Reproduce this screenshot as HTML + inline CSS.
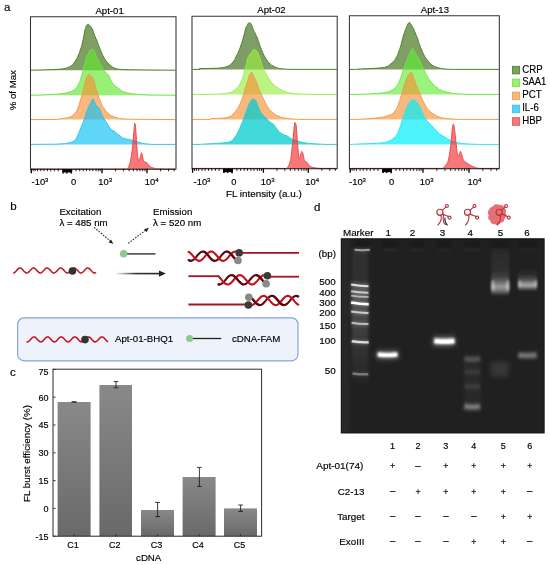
<!DOCTYPE html>
<html lang="en">
<head>
<meta charset="utf-8">
<title>Figure</title>
<style>
html,body{margin:0;padding:0;background:#fff;}
body{width:550px;height:565px;overflow:hidden;}
svg{display:block;font-family:"Liberation Sans",sans-serif;}
text{fill:#000;stroke:#000;stroke-width:0.16px;}
</style>
</head>
<body>
<svg width="550" height="565" viewBox="0 0 550 565">
<rect width="550" height="565" fill="#fff"/>
<!-- panel a -->
<text x="4" y="11.2" font-size="11.5">a</text>
<text transform="translate(15.6 110.2) rotate(-90)" font-size="9.6">% of Max</text>
<g>
<path d="M31 70.2 L40 70 L42.3 69.92 L45.63 69.81 L49.41 69.68 L53.06 69.54 L56 69.4 L58.14 69.27 L59.87 69.15 L61.33 69.02 L62.66 68.84 L64 68.6 L65.36 68.3 L66.64 67.96 L67.84 67.57 L68.96 67.17 L70 66.55 L70.94 66.06 L71.79 65.14 L72.57 64.84 L73.3 64.06 L74 63.11 L74.66 61.88 L75.27 61.21 L75.85 60.09 L76.42 58.98 L77 58.32 L77.61 57.09 L78.23 55.07 L78.84 54.22 L79.44 52.57 L80 50.92 L80.52 49.34 L81.02 48.09 L81.5 46.36 L81.96 44.87 L82.4 43.11 L82.83 40.81 L83.25 39.16 L83.65 37.17 L84.03 35.13 L84.4 33.08 L84.74 31.1 L85.05 29.63 L85.35 28.43 L85.66 27.86 L86 26.46 L86.37 25.74 L86.77 25.51 L87.18 24.67 L87.59 24.56 L88 24.36 L88.39 24.15 L88.78 24.76 L89.17 25.32 L89.57 25.29 L90 25.81 L90.47 26.42 L90.97 26.68 L91.48 27.59 L91.96 28.47 L92.4 29.11 L92.75 29.86 L93.03 31.01 L93.3 31.51 L93.6 32.89 L94 33.91 L94.51 35.33 L95.1 36.34 L95.73 38.22 L96.38 39.22 L97 40.77 L97.6 42.77 L98.2 44.49 L98.8 45.78 L99.4 47.39 L100 48.82 L100.58 50.32 L101.15 52 L101.73 53.09 L102.34 54.41 L103 55.97 L103.74 57.06 L104.53 58.67 L105.35 60.02 L106.18 61.14 L107 61.99 L107.78 62.84 L108.55 63.77 L109.33 64.25 L110.14 65.47 L111 65.88 L111.89 66.51 L112.78 67.22 L113.74 67.74 L114.79 68.2 L116 68.6 L117.12 68.91 L118.12 69.14 L119.36 69.32 L121.2 69.46 L124 69.6 L128.46 69.72 L134.35 69.82 L140.61 69.9 L146.18 69.96 L150 70 L175.5 70.2Z" fill="rgb(60,110,20)" fill-opacity="0.66" stroke="none"/>
<path d="M31 70.2 L40 70 L42.3 69.92 L45.63 69.81 L49.41 69.68 L53.06 69.54 L56 69.4 L58.14 69.27 L59.87 69.15 L61.33 69.02 L62.66 68.84 L64 68.6 L65.36 68.3 L66.64 67.96 L67.84 67.57 L68.96 67.17 L70 66.55 L70.94 66.06 L71.79 65.14 L72.57 64.84 L73.3 64.06 L74 63.11 L74.66 61.88 L75.27 61.21 L75.85 60.09 L76.42 58.98 L77 58.32 L77.61 57.09 L78.23 55.07 L78.84 54.22 L79.44 52.57 L80 50.92 L80.52 49.34 L81.02 48.09 L81.5 46.36 L81.96 44.87 L82.4 43.11 L82.83 40.81 L83.25 39.16 L83.65 37.17 L84.03 35.13 L84.4 33.08 L84.74 31.1 L85.05 29.63 L85.35 28.43 L85.66 27.86 L86 26.46 L86.37 25.74 L86.77 25.51 L87.18 24.67 L87.59 24.56 L88 24.36 L88.39 24.15 L88.78 24.76 L89.17 25.32 L89.57 25.29 L90 25.81 L90.47 26.42 L90.97 26.68 L91.48 27.59 L91.96 28.47 L92.4 29.11 L92.75 29.86 L93.03 31.01 L93.3 31.51 L93.6 32.89 L94 33.91 L94.51 35.33 L95.1 36.34 L95.73 38.22 L96.38 39.22 L97 40.77 L97.6 42.77 L98.2 44.49 L98.8 45.78 L99.4 47.39 L100 48.82 L100.58 50.32 L101.15 52 L101.73 53.09 L102.34 54.41 L103 55.97 L103.74 57.06 L104.53 58.67 L105.35 60.02 L106.18 61.14 L107 61.99 L107.78 62.84 L108.55 63.77 L109.33 64.25 L110.14 65.47 L111 65.88 L111.89 66.51 L112.78 67.22 L113.74 67.74 L114.79 68.2 L116 68.6 L117.12 68.91 L118.12 69.14 L119.36 69.32 L121.2 69.46 L124 69.6 L128.46 69.72 L134.35 69.82 L140.61 69.9 L146.18 69.96 L150 70 L175.5 70.2" fill="none" stroke="#4e7f2a" stroke-width="1.0" stroke-linejoin="round"/>
<path d="M31 95.2 L40 95 L42.27 94.9 L45.54 94.76 L49.26 94.59 L52.93 94.4 L56 94.2 L58.43 94 L60.58 93.81 L62.5 93.59 L64.29 93.32 L66 93 L67.64 92.62 L69.16 92.15 L70.56 91.75 L71.84 91.47 L73 90.58 L74.01 90 L74.86 89.42 L75.62 88.45 L76.31 87.9 L77 87.09 L77.66 86.22 L78.27 84.68 L78.85 83.67 L79.42 82.21 L80 81.22 L80.61 79.39 L81.22 76.97 L81.83 75.53 L82.43 73.39 L83 71.11 L83.55 69.03 L84.08 66.62 L84.59 64.44 L85.1 62.83 L85.6 60.69 L86.1 59.13 L86.59 57.63 L87.08 56.07 L87.55 55.1 L88 53.96 L88.42 53.3 L88.81 52.31 L89.19 51.76 L89.58 51.11 L90 50.71 L90.46 50.06 L90.95 49.45 L91.45 49.57 L91.94 49.34 L92.4 49.24 L92.82 49.4 L93.2 49.6 L93.58 50.17 L93.97 50.99 L94.4 51.7 L94.88 53.21 L95.38 54.16 L95.9 55.77 L96.44 56.74 L97 58.32 L97.57 59.29 L98.17 59.67 L98.78 60.77 L99.39 62.24 L100 62.98 L100.6 64.5 L101.2 65.35 L101.8 66.4 L102.4 68 L103 69.19 L103.6 69.78 L104.2 70.5 L104.8 71.45 L105.4 72.62 L106 73.18 L106.62 73.36 L107.25 74 L107.87 74.42 L108.46 74.98 L109 76.21 L109.45 76.66 L109.82 77.95 L110.18 78.94 L110.55 79.82 L111 81.16 L111.52 81.62 L112.08 82.82 L112.68 83.25 L113.32 84.22 L114 84.8 L114.74 85.5 L115.53 86.6 L116.35 87.06 L117.18 87.28 L118 88.27 L118.77 88.41 L119.5 89.17 L120.26 90.12 L121.07 90.56 L122 90.72 L123.04 91.82 L124.16 91.71 L125.36 92.31 L126.64 92.67 L128 93 L129.38 93.3 L130.77 93.56 L132.27 93.79 L133.98 94 L136 94.2 L138.64 94.4 L141.84 94.59 L145.12 94.76 L148 94.9 L150 95 L175.5 95.2Z" fill="rgb(96,231,43)" fill-opacity="0.64" stroke="none"/>
<path d="M31 95.2 L40 95 L42.27 94.9 L45.54 94.76 L49.26 94.59 L52.93 94.4 L56 94.2 L58.43 94 L60.58 93.81 L62.5 93.59 L64.29 93.32 L66 93 L67.64 92.62 L69.16 92.15 L70.56 91.75 L71.84 91.47 L73 90.58 L74.01 90 L74.86 89.42 L75.62 88.45 L76.31 87.9 L77 87.09 L77.66 86.22 L78.27 84.68 L78.85 83.67 L79.42 82.21 L80 81.22 L80.61 79.39 L81.22 76.97 L81.83 75.53 L82.43 73.39 L83 71.11 L83.55 69.03 L84.08 66.62 L84.59 64.44 L85.1 62.83 L85.6 60.69 L86.1 59.13 L86.59 57.63 L87.08 56.07 L87.55 55.1 L88 53.96 L88.42 53.3 L88.81 52.31 L89.19 51.76 L89.58 51.11 L90 50.71 L90.46 50.06 L90.95 49.45 L91.45 49.57 L91.94 49.34 L92.4 49.24 L92.82 49.4 L93.2 49.6 L93.58 50.17 L93.97 50.99 L94.4 51.7 L94.88 53.21 L95.38 54.16 L95.9 55.77 L96.44 56.74 L97 58.32 L97.57 59.29 L98.17 59.67 L98.78 60.77 L99.39 62.24 L100 62.98 L100.6 64.5 L101.2 65.35 L101.8 66.4 L102.4 68 L103 69.19 L103.6 69.78 L104.2 70.5 L104.8 71.45 L105.4 72.62 L106 73.18 L106.62 73.36 L107.25 74 L107.87 74.42 L108.46 74.98 L109 76.21 L109.45 76.66 L109.82 77.95 L110.18 78.94 L110.55 79.82 L111 81.16 L111.52 81.62 L112.08 82.82 L112.68 83.25 L113.32 84.22 L114 84.8 L114.74 85.5 L115.53 86.6 L116.35 87.06 L117.18 87.28 L118 88.27 L118.77 88.41 L119.5 89.17 L120.26 90.12 L121.07 90.56 L122 90.72 L123.04 91.82 L124.16 91.71 L125.36 92.31 L126.64 92.67 L128 93 L129.38 93.3 L130.77 93.56 L132.27 93.79 L133.98 94 L136 94.2 L138.64 94.4 L141.84 94.59 L145.12 94.76 L148 94.9 L150 95 L175.5 95.2" fill="none" stroke="#6ee44a" stroke-width="1.0" stroke-linejoin="round"/>
<path d="M31 119.6 L56 119.4 L57.42 119.22 L59.47 118.97 L61.81 118.67 L64.1 118.34 L66 118 L67.49 117.67 L68.78 117.34 L69.94 116.97 L70.99 116.52 L72 116.11 L72.94 115.49 L73.79 114.44 L74.57 113.57 L75.3 112.94 L76 111.84 L76.66 111.06 L77.27 109.69 L77.85 108.23 L78.42 106.68 L79 105.11 L79.61 102.94 L80.23 101.17 L80.84 98.91 L81.44 97.33 L82 94.69 L82.52 93.18 L83.02 90.56 L83.5 88.91 L83.96 86.69 L84.4 84.93 L84.82 83.59 L85.2 81.47 L85.58 80.09 L85.97 79.41 L86.4 78.01 L86.89 76.71 L87.43 76.44 L87.97 75.68 L88.51 74.58 L89 74.55 L89.44 74.48 L89.84 75.08 L90.23 75.95 L90.61 76.28 L91 77.14 L91.4 76.88 L91.8 76.98 L92.2 77.46 L92.6 77.37 L93 77.94 L93.38 79.04 L93.75 80.21 L94.13 81.62 L94.54 82.98 L95 85.16 L95.54 87.17 L96.13 89.21 L96.75 91.11 L97.38 92.98 L98 94.9 L98.58 96.88 L99.15 98.51 L99.73 99.7 L100.34 101.31 L101 102.9 L101.72 104.5 L102.48 106.19 L103.28 107.39 L104.12 108.41 L105 110.23 L105.92 111.12 L106.88 112.28 L107.88 113.09 L108.92 114.15 L110 114.92 L111.1 115.85 L112.23 115.91 L113.41 116.62 L114.66 117.01 L116 117.4 L117.18 117.79 L118.19 118.16 L119.41 118.48 L121.22 118.77 L124 119 L128.46 119.16 L134.35 119.27 L140.61 119.33 L146.18 119.36 L150 119.4 L175.5 119.6Z" fill="rgb(246,144,53)" fill-opacity="0.64" stroke="none"/>
<path d="M31 119.6 L56 119.4 L57.42 119.22 L59.47 118.97 L61.81 118.67 L64.1 118.34 L66 118 L67.49 117.67 L68.78 117.34 L69.94 116.97 L70.99 116.52 L72 116.11 L72.94 115.49 L73.79 114.44 L74.57 113.57 L75.3 112.94 L76 111.84 L76.66 111.06 L77.27 109.69 L77.85 108.23 L78.42 106.68 L79 105.11 L79.61 102.94 L80.23 101.17 L80.84 98.91 L81.44 97.33 L82 94.69 L82.52 93.18 L83.02 90.56 L83.5 88.91 L83.96 86.69 L84.4 84.93 L84.82 83.59 L85.2 81.47 L85.58 80.09 L85.97 79.41 L86.4 78.01 L86.89 76.71 L87.43 76.44 L87.97 75.68 L88.51 74.58 L89 74.55 L89.44 74.48 L89.84 75.08 L90.23 75.95 L90.61 76.28 L91 77.14 L91.4 76.88 L91.8 76.98 L92.2 77.46 L92.6 77.37 L93 77.94 L93.38 79.04 L93.75 80.21 L94.13 81.62 L94.54 82.98 L95 85.16 L95.54 87.17 L96.13 89.21 L96.75 91.11 L97.38 92.98 L98 94.9 L98.58 96.88 L99.15 98.51 L99.73 99.7 L100.34 101.31 L101 102.9 L101.72 104.5 L102.48 106.19 L103.28 107.39 L104.12 108.41 L105 110.23 L105.92 111.12 L106.88 112.28 L107.88 113.09 L108.92 114.15 L110 114.92 L111.1 115.85 L112.23 115.91 L113.41 116.62 L114.66 117.01 L116 117.4 L117.18 117.79 L118.19 118.16 L119.41 118.48 L121.22 118.77 L124 119 L128.46 119.16 L134.35 119.27 L140.61 119.33 L146.18 119.36 L150 119.4 L175.5 119.6" fill="none" stroke="#f49a48" stroke-width="1.0" stroke-linejoin="round"/>
<path d="M31 144.4 L56 144.2 L56.82 144.15 L57.97 144.09 L59.31 144.01 L60.7 143.91 L62 143.8 L63.2 143.68 L64.4 143.57 L65.6 143.43 L66.8 143.24 L68 143 L69.25 142.71 L70.54 142.38 L71.82 142 L72.99 141.55 L74 140.83 L74.79 140.51 L75.42 139.82 L75.94 139.16 L76.45 137.8 L77 136.81 L77.58 135.59 L78.15 134.37 L78.73 133.32 L79.34 131.38 L80 130.02 L80.74 128.02 L81.53 126.17 L82.35 124.24 L83.18 122.41 L84 120.08 L84.82 117.29 L85.65 114.9 L86.47 112.22 L87.26 110.31 L88 108.22 L88.68 106.58 L89.32 105.25 L89.92 104.07 L90.48 103.23 L91 102.21 L91.46 100.93 L91.87 100.49 L92.25 99.54 L92.62 99.28 L93 99.04 L93.4 99.32 L93.8 100.05 L94.2 101.09 L94.6 102.02 L95 102.73 L95.39 103.89 L95.77 104.48 L96.16 105.19 L96.56 105.55 L97 106.04 L97.48 106.73 L98.01 106.8 L98.55 107.71 L99.08 108.17 L99.6 108.77 L100.07 109.78 L100.5 111.15 L100.93 112.21 L101.42 113.66 L102 115.07 L102.7 116.28 L103.48 117.52 L104.32 119.22 L105.17 120.46 L106 121.81 L106.78 123.08 L107.55 124.47 L108.33 125.49 L109.14 127.05 L110 128.32 L110.94 128.85 L111.93 129.9 L112.95 130.8 L113.98 130.91 L115 131.75 L115.98 133.03 L116.95 133.88 L117.93 134.57 L118.94 135.03 L120 135.94 L121.14 136.95 L122.33 137.64 L123.55 138.2 L124.78 138.34 L126 139.25 L127.2 139.22 L128.4 139.65 L129.6 139.37 L130.8 140.1 L132 140.07 L133.2 140.5 L134.4 140.55 L135.6 141.26 L136.8 141.61 L138 142 L139.17 142.36 L140.3 142.71 L141.46 143.04 L142.67 143.34 L144 143.6 L145.6 143.82 L147.44 144.02 L149.28 144.18 L150.88 144.3 L152 144.4 L175.5 144.4Z" fill="rgb(14,193,243)" fill-opacity="0.66" stroke="none"/>
<path d="M31 144.4 L56 144.2 L56.82 144.15 L57.97 144.09 L59.31 144.01 L60.7 143.91 L62 143.8 L63.2 143.68 L64.4 143.57 L65.6 143.43 L66.8 143.24 L68 143 L69.25 142.71 L70.54 142.38 L71.82 142 L72.99 141.55 L74 140.83 L74.79 140.51 L75.42 139.82 L75.94 139.16 L76.45 137.8 L77 136.81 L77.58 135.59 L78.15 134.37 L78.73 133.32 L79.34 131.38 L80 130.02 L80.74 128.02 L81.53 126.17 L82.35 124.24 L83.18 122.41 L84 120.08 L84.82 117.29 L85.65 114.9 L86.47 112.22 L87.26 110.31 L88 108.22 L88.68 106.58 L89.32 105.25 L89.92 104.07 L90.48 103.23 L91 102.21 L91.46 100.93 L91.87 100.49 L92.25 99.54 L92.62 99.28 L93 99.04 L93.4 99.32 L93.8 100.05 L94.2 101.09 L94.6 102.02 L95 102.73 L95.39 103.89 L95.77 104.48 L96.16 105.19 L96.56 105.55 L97 106.04 L97.48 106.73 L98.01 106.8 L98.55 107.71 L99.08 108.17 L99.6 108.77 L100.07 109.78 L100.5 111.15 L100.93 112.21 L101.42 113.66 L102 115.07 L102.7 116.28 L103.48 117.52 L104.32 119.22 L105.17 120.46 L106 121.81 L106.78 123.08 L107.55 124.47 L108.33 125.49 L109.14 127.05 L110 128.32 L110.94 128.85 L111.93 129.9 L112.95 130.8 L113.98 130.91 L115 131.75 L115.98 133.03 L116.95 133.88 L117.93 134.57 L118.94 135.03 L120 135.94 L121.14 136.95 L122.33 137.64 L123.55 138.2 L124.78 138.34 L126 139.25 L127.2 139.22 L128.4 139.65 L129.6 139.37 L130.8 140.1 L132 140.07 L133.2 140.5 L134.4 140.55 L135.6 141.26 L136.8 141.61 L138 142 L139.17 142.36 L140.3 142.71 L141.46 143.04 L142.67 143.34 L144 143.6 L145.6 143.82 L147.44 144.02 L149.28 144.18 L150.88 144.3 L152 144.4 L175.5 144.4" fill="none" stroke="#35c2ee" stroke-width="1.0" stroke-linejoin="round"/>
<path d="M31 169 L126 169 L126.24 168.95 L126.58 168.91 L126.98 168.82 L127.4 168.6 L127.8 168.2 L128.19 167.64 L128.59 166.96 L129 166.12 L129.4 164.81 L129.8 163.94 L130.19 162.37 L130.59 160.8 L130.97 158.36 L131.35 156.18 L131.7 154.16 L132.03 151.47 L132.35 148.27 L132.66 145.45 L132.94 142.22 L133.2 139.69 L133.44 136.6 L133.66 134.07 L133.85 132.1 L134.03 129.53 L134.2 127.63 L134.34 126.52 L134.46 125.18 L134.56 123.93 L134.67 123.64 L134.8 123.51 L134.94 123.32 L135.1 124.14 L135.26 124.62 L135.42 126.01 L135.6 127.51 L135.79 129.88 L135.99 133.29 L136.19 136.07 L136.4 139.72 L136.6 142.36 L136.8 145.4 L137 148.59 L137.19 151.37 L137.39 153.58 L137.6 156.06 L137.81 157.76 L138.02 158.74 L138.24 159.64 L138.47 160.82 L138.7 160.91 L138.94 160.64 L139.2 160.36 L139.46 159.48 L139.72 159.04 L140 158 L140.29 156.73 L140.6 155.98 L140.92 154.24 L141.22 153.4 L141.5 152.77 L141.74 153.48 L141.96 153.73 L142.16 155 L142.37 155.76 L142.6 156.99 L142.83 158.03 L143.05 158.92 L143.29 159.84 L143.57 160.73 L143.9 161.36 L144.32 161.85 L144.8 161.65 L145.32 161.97 L145.83 161.89 L146.3 162.56 L146.71 163.01 L147.09 162.89 L147.45 163.48 L147.85 164.42 L148.3 164.85 L148.81 164.97 L149.35 165.97 L149.93 166.33 L150.55 166.8 L151.2 167.2 L151.9 167.53 L152.65 167.8 L153.42 168.03 L154.21 168.22 L155 168.4 L155.85 168.55 L156.78 168.67 L157.68 168.77 L158.45 168.84 L159 168.9 L175.5 169Z" fill="rgb(243,50,50)" fill-opacity="0.66" stroke="none"/>
<path d="M31 169 L126 169 L126.24 168.95 L126.58 168.91 L126.98 168.82 L127.4 168.6 L127.8 168.2 L128.19 167.64 L128.59 166.96 L129 166.12 L129.4 164.81 L129.8 163.94 L130.19 162.37 L130.59 160.8 L130.97 158.36 L131.35 156.18 L131.7 154.16 L132.03 151.47 L132.35 148.27 L132.66 145.45 L132.94 142.22 L133.2 139.69 L133.44 136.6 L133.66 134.07 L133.85 132.1 L134.03 129.53 L134.2 127.63 L134.34 126.52 L134.46 125.18 L134.56 123.93 L134.67 123.64 L134.8 123.51 L134.94 123.32 L135.1 124.14 L135.26 124.62 L135.42 126.01 L135.6 127.51 L135.79 129.88 L135.99 133.29 L136.19 136.07 L136.4 139.72 L136.6 142.36 L136.8 145.4 L137 148.59 L137.19 151.37 L137.39 153.58 L137.6 156.06 L137.81 157.76 L138.02 158.74 L138.24 159.64 L138.47 160.82 L138.7 160.91 L138.94 160.64 L139.2 160.36 L139.46 159.48 L139.72 159.04 L140 158 L140.29 156.73 L140.6 155.98 L140.92 154.24 L141.22 153.4 L141.5 152.77 L141.74 153.48 L141.96 153.73 L142.16 155 L142.37 155.76 L142.6 156.99 L142.83 158.03 L143.05 158.92 L143.29 159.84 L143.57 160.73 L143.9 161.36 L144.32 161.85 L144.8 161.65 L145.32 161.97 L145.83 161.89 L146.3 162.56 L146.71 163.01 L147.09 162.89 L147.45 163.48 L147.85 164.42 L148.3 164.85 L148.81 164.97 L149.35 165.97 L149.93 166.33 L150.55 166.8 L151.2 167.2 L151.9 167.53 L152.65 167.8 L153.42 168.03 L154.21 168.22 L155 168.4 L155.85 168.55 L156.78 168.67 L157.68 168.77 L158.45 168.84 L159 168.9 L175.5 169" fill="none" stroke="#f04848" stroke-width="1.0" stroke-linejoin="round"/>
<path d="M30.5 168.8 V16.8 H176 V168.8" fill="none" stroke="#333" stroke-width="1.05"/>
<path d="M30.1 169.15 H176.4" stroke="#0a0a0a" stroke-width="1.05" stroke-opacity="0.95" fill="none"/>
<path d="M76.04 168.8 v2.5 M58.21 168.8 v2.5 M79.68 168.8 v2.5 M54.44 168.8 v2.5 M83.2 168.8 v2.5 M50.8 168.8 v2.5 M86.44 168.8 v2.5 M47.43 168.8 v2.5 M89.78 168.8 v2.5 M43.97 168.8 v2.5 M92.76 168.8 v2.5 M40.88 168.8 v2.5 M96.04 168.8 v2.5 M37.48 168.8 v2.5 M98.36 168.8 v2.5 M35.07 168.8 v2.5 M100.18 168.8 v2.5 M33.18 168.8 v2.5 M115.55 168.8 v2.5 M123.47 168.8 v2.5 M129.09 168.8 v2.5 M133.45 168.8 v2.5 M137.02 168.8 v2.5 M140.03 168.8 v2.5 M142.64 168.8 v2.5 M144.94 168.8 v2.5 M160.55 168.8 v2.5 M168.47 168.8 v2.5 M174.09 168.8 v2.5" stroke="#111" stroke-width="0.9" fill="none"/>
<path d="M31.3 168.8 v4.4 M102 168.8 v4.4 M147 168.8 v4.4" stroke="#000" stroke-width="1.3" fill="none"/>
<rect x="62.2" y="169.1" width="10" height="3.4" fill="#000"/>
<path d="M63.2 172.2 v1.3 M66.8 172.2 v1.3 M71.2 172.2 v1.4" stroke="#000" stroke-width="1.6"/>
<text x="40" y="185.3" text-anchor="middle" font-size="9.4">-10<tspan font-size="6" dy="-3.4">3</tspan></text>
<text x="73.6" y="185.3" text-anchor="middle" font-size="9.4">0</text>
<text x="105.2" y="185.3" text-anchor="middle" font-size="9.4">10<tspan font-size="6" dy="-3.4">3</tspan></text>
<text x="151.6" y="185.3" text-anchor="middle" font-size="9.4">10<tspan font-size="6" dy="-3.4">4</tspan></text>
<text x="109.6" y="13.6" text-anchor="middle" font-size="9.6">Apt-01</text>
</g>
<g>
<path d="M192.5 69.4 L200 69.4 L199.85 69.29 L199.46 69.13 L199.26 68.94 L199.63 68.76 L201 68.6 L203.82 68.49 L207.83 68.41 L212.33 68.33 L216.62 68.21 L220 68 L222.35 67.72 L224.14 67.4 L225.54 67.01 L226.77 66.55 L228 66.28 L229.21 65.51 L230.26 64.87 L231.22 64.2 L232.11 62.86 L233 62.1 L233.88 61.08 L234.72 59.68 L235.52 58 L236.28 56.22 L237 54.94 L237.66 53.98 L238.27 52.02 L238.85 50.82 L239.42 49.84 L240 47.96 L240.61 46.14 L241.22 44.46 L241.83 43.05 L242.43 40.78 L243 38.95 L243.56 37.06 L244.1 35.02 L244.62 32.64 L245.12 30.36 L245.6 29.05 L246.05 27.39 L246.47 26.42 L246.87 25.67 L247.25 25.35 L247.6 24.45 L247.91 24.19 L248.17 23.4 L248.43 23.05 L248.69 22.78 L249 23.14 L249.36 23.22 L249.76 22.82 L250.17 23 L250.59 23.16 L251 24.1 L251.4 24.62 L251.8 25.51 L252.2 26.98 L252.6 28.07 L253 28.96 L253.4 29.62 L253.8 30.77 L254.2 31.49 L254.6 32.17 L255 32.77 L255.4 34.07 L255.8 34.76 L256.2 35.39 L256.6 36.42 L257 37.06 L257.38 37.93 L257.75 38.89 L258.13 40.44 L258.54 41.65 L259 42.96 L259.54 44.85 L260.13 46.39 L260.75 47.58 L261.38 49.76 L262 50.65 L262.58 52.43 L263.15 53.41 L263.73 54.86 L264.34 56.15 L265 57.02 L265.72 58.42 L266.48 59.2 L267.28 60.89 L268.12 61.69 L269 62.97 L269.92 63.78 L270.88 64.39 L271.88 65.56 L272.92 65.74 L274 66.6 L275.07 67.12 L276.14 67.57 L277.26 67.96 L278.53 68.3 L280 68.6 L281.9 68.85 L284.19 69.04 L286.53 69.2 L288.58 69.31 L290 69.4 L336.7 69.4Z" fill="rgb(60,108,24)" fill-opacity="0.66" stroke="none"/>
<path d="M192.5 69.4 L200 69.4 L199.85 69.29 L199.46 69.13 L199.26 68.94 L199.63 68.76 L201 68.6 L203.82 68.49 L207.83 68.41 L212.33 68.33 L216.62 68.21 L220 68 L222.35 67.72 L224.14 67.4 L225.54 67.01 L226.77 66.55 L228 66.28 L229.21 65.51 L230.26 64.87 L231.22 64.2 L232.11 62.86 L233 62.1 L233.88 61.08 L234.72 59.68 L235.52 58 L236.28 56.22 L237 54.94 L237.66 53.98 L238.27 52.02 L238.85 50.82 L239.42 49.84 L240 47.96 L240.61 46.14 L241.22 44.46 L241.83 43.05 L242.43 40.78 L243 38.95 L243.56 37.06 L244.1 35.02 L244.62 32.64 L245.12 30.36 L245.6 29.05 L246.05 27.39 L246.47 26.42 L246.87 25.67 L247.25 25.35 L247.6 24.45 L247.91 24.19 L248.17 23.4 L248.43 23.05 L248.69 22.78 L249 23.14 L249.36 23.22 L249.76 22.82 L250.17 23 L250.59 23.16 L251 24.1 L251.4 24.62 L251.8 25.51 L252.2 26.98 L252.6 28.07 L253 28.96 L253.4 29.62 L253.8 30.77 L254.2 31.49 L254.6 32.17 L255 32.77 L255.4 34.07 L255.8 34.76 L256.2 35.39 L256.6 36.42 L257 37.06 L257.38 37.93 L257.75 38.89 L258.13 40.44 L258.54 41.65 L259 42.96 L259.54 44.85 L260.13 46.39 L260.75 47.58 L261.38 49.76 L262 50.65 L262.58 52.43 L263.15 53.41 L263.73 54.86 L264.34 56.15 L265 57.02 L265.72 58.42 L266.48 59.2 L267.28 60.89 L268.12 61.69 L269 62.97 L269.92 63.78 L270.88 64.39 L271.88 65.56 L272.92 65.74 L274 66.6 L275.07 67.12 L276.14 67.57 L277.26 67.96 L278.53 68.3 L280 68.6 L281.9 68.85 L284.19 69.04 L286.53 69.2 L288.58 69.31 L290 69.4 L336.7 69.4" fill="none" stroke="#4e7f2a" stroke-width="1.0" stroke-linejoin="round"/>
<path d="M192.5 94.4 L205 94.4 L207.12 94.36 L210.16 94.32 L213.64 94.25 L217.08 94.15 L220 94 L222.38 93.82 L224.55 93.62 L226.53 93.37 L228.34 93.04 L230 92.6 L231.49 92.04 L232.78 91.15 L233.94 90.78 L234.99 89.94 L236 88.99 L236.94 87.92 L237.79 87.4 L238.57 86.43 L239.3 85.16 L240 84 L240.67 82.59 L241.29 81.14 L241.88 80.02 L242.44 78.68 L243 76.7 L243.55 75.38 L244.08 72.98 L244.59 70.88 L245.1 68.66 L245.6 67.35 L246.08 65.24 L246.55 63.4 L247.01 61.35 L247.48 59.2 L248 57.88 L248.56 56.72 L249.14 55.38 L249.74 55.02 L250.36 53.75 L251 52.76 L251.67 52.31 L252.37 50.9 L253.08 50.63 L253.76 49.67 L254.4 49.44 L254.98 49.41 L255.53 49.96 L256.04 50.41 L256.53 51.03 L257 52.26 L257.44 52.32 L257.84 53.18 L258.23 53.29 L258.61 54.47 L259 55.28 L259.38 56.31 L259.75 57.65 L260.13 58.99 L260.54 60.63 L261 61.74 L261.52 63.54 L262.08 65.4 L262.68 66.61 L263.32 68.74 L264 70.27 L264.74 71.42 L265.53 72.83 L266.35 74.29 L267.18 75.6 L268 77.35 L268.78 78.21 L269.55 79.22 L270.33 80.48 L271.14 82.07 L272 83.34 L272.94 84 L273.93 84.93 L274.95 85.84 L275.98 86.8 L277 87.21 L277.95 88.21 L278.86 88.84 L279.78 89.52 L280.81 89.81 L282 90.37 L283.38 91.05 L284.89 91.68 L286.51 92.18 L288.22 92.62 L290 93 L291.84 93.3 L293.76 93.53 L295.76 93.71 L297.84 93.86 L300 94 L302.46 94.12 L305.23 94.22 L307.97 94.3 L310.34 94.36 L312 94.4 L336.7 94.4Z" fill="rgb(150,238,62)" fill-opacity="0.64" stroke="none"/>
<path d="M192.5 94.4 L205 94.4 L207.12 94.36 L210.16 94.32 L213.64 94.25 L217.08 94.15 L220 94 L222.38 93.82 L224.55 93.62 L226.53 93.37 L228.34 93.04 L230 92.6 L231.49 92.04 L232.78 91.15 L233.94 90.78 L234.99 89.94 L236 88.99 L236.94 87.92 L237.79 87.4 L238.57 86.43 L239.3 85.16 L240 84 L240.67 82.59 L241.29 81.14 L241.88 80.02 L242.44 78.68 L243 76.7 L243.55 75.38 L244.08 72.98 L244.59 70.88 L245.1 68.66 L245.6 67.35 L246.08 65.24 L246.55 63.4 L247.01 61.35 L247.48 59.2 L248 57.88 L248.56 56.72 L249.14 55.38 L249.74 55.02 L250.36 53.75 L251 52.76 L251.67 52.31 L252.37 50.9 L253.08 50.63 L253.76 49.67 L254.4 49.44 L254.98 49.41 L255.53 49.96 L256.04 50.41 L256.53 51.03 L257 52.26 L257.44 52.32 L257.84 53.18 L258.23 53.29 L258.61 54.47 L259 55.28 L259.38 56.31 L259.75 57.65 L260.13 58.99 L260.54 60.63 L261 61.74 L261.52 63.54 L262.08 65.4 L262.68 66.61 L263.32 68.74 L264 70.27 L264.74 71.42 L265.53 72.83 L266.35 74.29 L267.18 75.6 L268 77.35 L268.78 78.21 L269.55 79.22 L270.33 80.48 L271.14 82.07 L272 83.34 L272.94 84 L273.93 84.93 L274.95 85.84 L275.98 86.8 L277 87.21 L277.95 88.21 L278.86 88.84 L279.78 89.52 L280.81 89.81 L282 90.37 L283.38 91.05 L284.89 91.68 L286.51 92.18 L288.22 92.62 L290 93 L291.84 93.3 L293.76 93.53 L295.76 93.71 L297.84 93.86 L300 94 L302.46 94.12 L305.23 94.22 L307.97 94.3 L310.34 94.36 L312 94.4 L336.7 94.4" fill="none" stroke="#9cec54" stroke-width="1.0" stroke-linejoin="round"/>
<path d="M192.5 119.4 L210 119.4 L210.11 119.29 L210.18 119.13 L210.38 118.94 L210.93 118.76 L212 118.6 L213.84 118.49 L216.32 118.41 L219.08 118.33 L221.76 118.21 L224 118 L225.77 117.72 L227.3 117.4 L228.66 117.01 L229.87 116.55 L231 116.32 L231.99 115.11 L232.82 114.31 L233.54 114.19 L234.25 112.74 L235 111.73 L235.81 111.07 L236.63 109.73 L237.44 108.91 L238.24 107.17 L239 106.32 L239.73 104.42 L240.44 103.06 L241.13 101.67 L241.78 99.83 L242.4 98.3 L242.97 96.39 L243.5 94.11 L244 92.84 L244.49 90.81 L245 88.87 L245.53 87.09 L246.07 85.88 L246.6 84.07 L247.12 82.76 L247.6 81.19 L248.04 79.94 L248.44 78.34 L248.83 77.2 L249.21 76.03 L249.6 74.83 L250 74.48 L250.4 73.29 L250.8 73.03 L251.2 72.79 L251.6 72.51 L251.99 72.45 L252.38 73.55 L252.77 74.28 L253.17 74.87 L253.6 75.68 L254.04 76.88 L254.5 77.43 L254.98 79.01 L255.48 79.79 L256 81.01 L256.56 82.36 L257.16 84.14 L257.77 86.02 L258.39 87.28 L259 88.91 L259.58 90.51 L260.15 91.68 L260.73 93.24 L261.34 94.58 L262 95.95 L262.74 97.69 L263.53 99.24 L264.35 100.61 L265.18 102.86 L266 103.9 L266.78 105.3 L267.55 106.54 L268.33 108.1 L269.14 109.24 L270 110.01 L270.9 110.97 L271.83 111.74 L272.81 113.23 L273.86 113.59 L275 114.63 L276.26 115.19 L277.61 115.8 L279.03 116.47 L280.5 116.96 L282 117.4 L283.5 117.78 L285.03 118.1 L286.61 118.36 L288.26 118.59 L290 118.8 L292.03 118.98 L294.34 119.13 L296.62 119.24 L298.61 119.33 L300 119.4 L336.7 119.4Z" fill="rgb(246,144,53)" fill-opacity="0.64" stroke="none"/>
<path d="M192.5 119.4 L210 119.4 L210.11 119.29 L210.18 119.13 L210.38 118.94 L210.93 118.76 L212 118.6 L213.84 118.49 L216.32 118.41 L219.08 118.33 L221.76 118.21 L224 118 L225.77 117.72 L227.3 117.4 L228.66 117.01 L229.87 116.55 L231 116.32 L231.99 115.11 L232.82 114.31 L233.54 114.19 L234.25 112.74 L235 111.73 L235.81 111.07 L236.63 109.73 L237.44 108.91 L238.24 107.17 L239 106.32 L239.73 104.42 L240.44 103.06 L241.13 101.67 L241.78 99.83 L242.4 98.3 L242.97 96.39 L243.5 94.11 L244 92.84 L244.49 90.81 L245 88.87 L245.53 87.09 L246.07 85.88 L246.6 84.07 L247.12 82.76 L247.6 81.19 L248.04 79.94 L248.44 78.34 L248.83 77.2 L249.21 76.03 L249.6 74.83 L250 74.48 L250.4 73.29 L250.8 73.03 L251.2 72.79 L251.6 72.51 L251.99 72.45 L252.38 73.55 L252.77 74.28 L253.17 74.87 L253.6 75.68 L254.04 76.88 L254.5 77.43 L254.98 79.01 L255.48 79.79 L256 81.01 L256.56 82.36 L257.16 84.14 L257.77 86.02 L258.39 87.28 L259 88.91 L259.58 90.51 L260.15 91.68 L260.73 93.24 L261.34 94.58 L262 95.95 L262.74 97.69 L263.53 99.24 L264.35 100.61 L265.18 102.86 L266 103.9 L266.78 105.3 L267.55 106.54 L268.33 108.1 L269.14 109.24 L270 110.01 L270.9 110.97 L271.83 111.74 L272.81 113.23 L273.86 113.59 L275 114.63 L276.26 115.19 L277.61 115.8 L279.03 116.47 L280.5 116.96 L282 117.4 L283.5 117.78 L285.03 118.1 L286.61 118.36 L288.26 118.59 L290 118.8 L292.03 118.98 L294.34 119.13 L296.62 119.24 L298.61 119.33 L300 119.4 L336.7 119.4" fill="none" stroke="#f49a48" stroke-width="1.0" stroke-linejoin="round"/>
<path d="M192.5 144.4 L200 144.4 L200.66 144.36 L201.49 144.3 L202.59 144.22 L204.06 144.12 L206 144 L208.69 143.84 L212.06 143.66 L215.7 143.46 L219.15 143.24 L222 143 L224.16 142.8 L225.92 142.62 L227.4 142.41 L228.72 142.09 L230 141.6 L231.21 141.22 L232.26 140.42 L233.22 139.44 L234.11 137.83 L235 137.06 L235.87 135.72 L236.7 134.44 L237.49 132.73 L238.25 131.29 L239 129.96 L239.72 128.28 L240.41 126.89 L241.08 124.99 L241.74 123.39 L242.4 122.15 L243.05 120.21 L243.68 118.48 L244.32 116.81 L244.95 114.72 L245.6 112.69 L246.27 111.32 L246.96 109.24 L247.66 107.38 L248.34 105.59 L249 104.33 L249.63 102.65 L250.23 101.86 L250.82 100.7 L251.41 100.15 L252 99.71 L252.62 99.2 L253.25 99 L253.87 99.4 L254.46 99.83 L255 100.06 L255.46 100.35 L255.87 100.97 L256.25 101.24 L256.62 101.94 L257 102.88 L257.38 104.25 L257.75 105.02 L258.13 106.26 L258.54 107.54 L259 108.68 L259.54 109.94 L260.13 111.22 L260.75 112.42 L261.38 113.03 L262 113.91 L262.58 114.56 L263.15 115.16 L263.73 116.02 L264.34 116.4 L265 116.83 L265.74 117.48 L266.53 118.77 L267.35 119.57 L268.18 120.48 L269 120.82 L269.8 121.66 L270.6 122.47 L271.4 122.77 L272.2 123.6 L273 123.77 L273.8 125.22 L274.6 125.59 L275.4 126.92 L276.2 127.7 L277 129.22 L277.78 130.02 L278.55 131.07 L279.33 131.76 L280.14 132.62 L281 133.03 L281.92 133.94 L282.88 134.28 L283.88 134.46 L284.92 135.38 L286 135.51 L287.12 136.03 L288.28 136.65 L289.48 137.64 L290.72 138.15 L292 139.3 L293.31 139.88 L294.64 139.9 L296.02 140.32 L297.47 141.08 L299 141.5 L300.62 141.92 L302.32 142.32 L304.09 142.69 L305.92 143.02 L307.8 143.3 L309.79 143.52 L311.88 143.67 L314.01 143.79 L316.08 143.9 L318 144 L319.87 144.11 L321.74 144.2 L323.48 144.28 L324.95 144.35 L326 144.4 L336.7 144.4Z" fill="rgb(0,204,208)" fill-opacity="0.74" stroke="none"/>
<path d="M192.5 144.4 L200 144.4 L200.66 144.36 L201.49 144.3 L202.59 144.22 L204.06 144.12 L206 144 L208.69 143.84 L212.06 143.66 L215.7 143.46 L219.15 143.24 L222 143 L224.16 142.8 L225.92 142.62 L227.4 142.41 L228.72 142.09 L230 141.6 L231.21 141.22 L232.26 140.42 L233.22 139.44 L234.11 137.83 L235 137.06 L235.87 135.72 L236.7 134.44 L237.49 132.73 L238.25 131.29 L239 129.96 L239.72 128.28 L240.41 126.89 L241.08 124.99 L241.74 123.39 L242.4 122.15 L243.05 120.21 L243.68 118.48 L244.32 116.81 L244.95 114.72 L245.6 112.69 L246.27 111.32 L246.96 109.24 L247.66 107.38 L248.34 105.59 L249 104.33 L249.63 102.65 L250.23 101.86 L250.82 100.7 L251.41 100.15 L252 99.71 L252.62 99.2 L253.25 99 L253.87 99.4 L254.46 99.83 L255 100.06 L255.46 100.35 L255.87 100.97 L256.25 101.24 L256.62 101.94 L257 102.88 L257.38 104.25 L257.75 105.02 L258.13 106.26 L258.54 107.54 L259 108.68 L259.54 109.94 L260.13 111.22 L260.75 112.42 L261.38 113.03 L262 113.91 L262.58 114.56 L263.15 115.16 L263.73 116.02 L264.34 116.4 L265 116.83 L265.74 117.48 L266.53 118.77 L267.35 119.57 L268.18 120.48 L269 120.82 L269.8 121.66 L270.6 122.47 L271.4 122.77 L272.2 123.6 L273 123.77 L273.8 125.22 L274.6 125.59 L275.4 126.92 L276.2 127.7 L277 129.22 L277.78 130.02 L278.55 131.07 L279.33 131.76 L280.14 132.62 L281 133.03 L281.92 133.94 L282.88 134.28 L283.88 134.46 L284.92 135.38 L286 135.51 L287.12 136.03 L288.28 136.65 L289.48 137.64 L290.72 138.15 L292 139.3 L293.31 139.88 L294.64 139.9 L296.02 140.32 L297.47 141.08 L299 141.5 L300.62 141.92 L302.32 142.32 L304.09 142.69 L305.92 143.02 L307.8 143.3 L309.79 143.52 L311.88 143.67 L314.01 143.79 L316.08 143.9 L318 144 L319.87 144.11 L321.74 144.2 L323.48 144.28 L324.95 144.35 L326 144.4 L336.7 144.4" fill="none" stroke="#2ccfd2" stroke-width="1.0" stroke-linejoin="round"/>
<path d="M192.5 168.4 L286 168.4 L286.18 168.38 L286.42 168.4 L286.73 168.38 L287.09 168.14 L287.5 167.6 L288.01 166.71 L288.63 165.54 L289.28 164.31 L289.89 162.87 L290.4 160.78 L290.77 159.64 L291.06 157.25 L291.3 155.61 L291.54 153.06 L291.8 151.18 L292.1 148.08 L292.41 145.5 L292.72 142.41 L293.02 139.39 L293.3 136.36 L293.55 133.97 L293.78 131.37 L294 128.25 L294.21 126.37 L294.4 125.02 L294.58 123.81 L294.73 123.03 L294.88 122.71 L295.03 123.18 L295.2 122.71 L295.39 123.33 L295.58 123.63 L295.78 123.63 L295.99 124.64 L296.2 126.06 L296.41 128.43 L296.63 131.16 L296.86 134.73 L297.08 138.01 L297.3 140.57 L297.52 143.81 L297.74 146.12 L297.96 148.92 L298.18 151.83 L298.4 154.01 L298.62 155.72 L298.83 157.25 L299.05 158.23 L299.27 158.5 L299.5 159.07 L299.75 158.78 L300.01 157.17 L300.28 156.12 L300.54 154.56 L300.8 153.55 L301.05 153.08 L301.29 152.59 L301.52 152.31 L301.76 151.41 L302 151.6 L302.24 152.14 L302.47 152.41 L302.71 152.86 L302.95 153.43 L303.2 154.59 L303.45 155.48 L303.7 157.18 L303.96 158.69 L304.25 159.89 L304.6 161.21 L305.02 161.53 L305.49 161.87 L306 162.26 L306.51 162.01 L307 162.28 L307.46 163.08 L307.9 163.61 L308.34 164.58 L308.8 164.78 L309.3 165.5 L309.82 165.94 L310.35 166.32 L310.91 166.65 L311.52 166.94 L312.2 167.2 L312.98 167.42 L313.86 167.6 L314.77 167.75 L315.67 167.88 L316.5 168 L317.31 168.11 L318.13 168.21 L318.89 168.29 L319.54 168.35 L320 168.4 L336.7 168.4Z" fill="rgb(243,50,50)" fill-opacity="0.66" stroke="none"/>
<path d="M192.5 168.4 L286 168.4 L286.18 168.38 L286.42 168.4 L286.73 168.38 L287.09 168.14 L287.5 167.6 L288.01 166.71 L288.63 165.54 L289.28 164.31 L289.89 162.87 L290.4 160.78 L290.77 159.64 L291.06 157.25 L291.3 155.61 L291.54 153.06 L291.8 151.18 L292.1 148.08 L292.41 145.5 L292.72 142.41 L293.02 139.39 L293.3 136.36 L293.55 133.97 L293.78 131.37 L294 128.25 L294.21 126.37 L294.4 125.02 L294.58 123.81 L294.73 123.03 L294.88 122.71 L295.03 123.18 L295.2 122.71 L295.39 123.33 L295.58 123.63 L295.78 123.63 L295.99 124.64 L296.2 126.06 L296.41 128.43 L296.63 131.16 L296.86 134.73 L297.08 138.01 L297.3 140.57 L297.52 143.81 L297.74 146.12 L297.96 148.92 L298.18 151.83 L298.4 154.01 L298.62 155.72 L298.83 157.25 L299.05 158.23 L299.27 158.5 L299.5 159.07 L299.75 158.78 L300.01 157.17 L300.28 156.12 L300.54 154.56 L300.8 153.55 L301.05 153.08 L301.29 152.59 L301.52 152.31 L301.76 151.41 L302 151.6 L302.24 152.14 L302.47 152.41 L302.71 152.86 L302.95 153.43 L303.2 154.59 L303.45 155.48 L303.7 157.18 L303.96 158.69 L304.25 159.89 L304.6 161.21 L305.02 161.53 L305.49 161.87 L306 162.26 L306.51 162.01 L307 162.28 L307.46 163.08 L307.9 163.61 L308.34 164.58 L308.8 164.78 L309.3 165.5 L309.82 165.94 L310.35 166.32 L310.91 166.65 L311.52 166.94 L312.2 167.2 L312.98 167.42 L313.86 167.6 L314.77 167.75 L315.67 167.88 L316.5 168 L317.31 168.11 L318.13 168.21 L318.89 168.29 L319.54 168.35 L320 168.4 L336.7 168.4" fill="none" stroke="#f04848" stroke-width="1.0" stroke-linejoin="round"/>
<path d="M192 168.4 V16.2 H337.2 V168.4" fill="none" stroke="#333" stroke-width="1.05"/>
<path d="M191.6 168.75 H337.6" stroke="#0a0a0a" stroke-width="1.05" stroke-opacity="0.95" fill="none"/>
<path d="M236.92 168.4 v2.5 M219.08 168.4 v2.5 M240.63 168.4 v2.5 M215.37 168.4 v2.5 M244.22 168.4 v2.5 M211.78 168.4 v2.5 M247.53 168.4 v2.5 M208.47 168.4 v2.5 M250.94 168.4 v2.5 M205.06 168.4 v2.5 M253.98 168.4 v2.5 M202.02 168.4 v2.5 M257.32 168.4 v2.5 M198.68 168.4 v2.5 M259.69 168.4 v2.5 M196.31 168.4 v2.5 M261.55 168.4 v2.5 M194.45 168.4 v2.5 M276.92 168.4 v2.5 M284.82 168.4 v2.5 M290.43 168.4 v2.5 M294.78 168.4 v2.5 M298.34 168.4 v2.5 M301.34 168.4 v2.5 M303.95 168.4 v2.5 M306.25 168.4 v2.5 M321.82 168.4 v2.5 M329.72 168.4 v2.5 M335.33 168.4 v2.5" stroke="#111" stroke-width="0.9" fill="none"/>
<path d="M192.6 168.4 v4.4 M263.4 168.4 v4.4 M308.3 168.4 v4.4" stroke="#000" stroke-width="1.3" fill="none"/>
<rect x="223" y="168.7" width="10" height="3.4" fill="#000"/>
<path d="M224 171.8 v1.3 M227.6 171.8 v1.3 M232 171.8 v1.4" stroke="#000" stroke-width="1.6"/>
<text x="202" y="184.9" text-anchor="middle" font-size="9.4">-10<tspan font-size="6" dy="-3.4">3</tspan></text>
<text x="233.8" y="184.9" text-anchor="middle" font-size="9.4">0</text>
<text x="267.7" y="184.9" text-anchor="middle" font-size="9.4">10<tspan font-size="6" dy="-3.4">3</tspan></text>
<text x="312.2" y="184.9" text-anchor="middle" font-size="9.4">10<tspan font-size="6" dy="-3.4">4</tspan></text>
<text x="271.5" y="12.6" text-anchor="middle" font-size="9.6">Apt-02</text>
</g>
<g>
<path d="M349.9 69.4 L355 69.4 L355.62 69.36 L356.39 69.3 L357.45 69.22 L358.94 69.12 L361 69 L363.99 68.84 L367.82 68.66 L371.94 68.46 L375.85 68.24 L379 68 L381.29 67.78 L383.06 67.57 L384.5 67.34 L385.75 67.03 L387 66.6 L388.21 66.07 L389.26 65.24 L390.22 64.32 L391.11 63.95 L392 62.8 L392.87 61.97 L393.7 61.17 L394.49 60.38 L395.25 59.56 L396 57.97 L396.73 56.95 L397.44 55.41 L398.13 53.24 L398.78 51.41 L399.4 49.76 L399.97 48.5 L400.5 46.54 L401 44.94 L401.49 43.15 L402 41.11 L402.52 39.18 L403.05 36.95 L403.57 35.05 L404.09 33.82 L404.6 32.12 L405.1 30.75 L405.59 29.31 L406.08 28.19 L406.55 27.08 L407 26.28 L407.42 24.79 L407.81 24.17 L408.19 23.28 L408.58 23.1 L409 22.86 L409.45 22.49 L409.92 22.72 L410.41 23.39 L410.9 24.13 L411.4 25.19 L411.9 25.74 L412.41 26.89 L412.92 27.59 L413.45 28.85 L414 29.78 L414.57 31.34 L415.17 32.57 L415.78 34.21 L416.39 35.75 L417 37.01 L417.6 38.4 L418.2 40.86 L418.8 42.76 L419.4 44.28 L420 45.99 L420.58 47.83 L421.15 48.77 L421.73 50.12 L422.34 51.77 L423 53.12 L423.72 54.56 L424.48 56.13 L425.28 57.35 L426.12 58.67 L427 59.81 L427.94 60.97 L428.93 62.18 L429.95 63.24 L430.98 64.37 L432 65.08 L432.95 65.67 L433.86 66.1 L434.78 66.62 L435.81 67.01 L437 67.4 L438.38 67.79 L439.89 68.16 L441.51 68.48 L443.22 68.77 L445 69 L447.03 69.16 L449.34 69.27 L451.62 69.33 L453.61 69.36 L455 69.4 L498.8 69.4Z" fill="rgb(60,110,20)" fill-opacity="0.66" stroke="none"/>
<path d="M349.9 69.4 L355 69.4 L355.62 69.36 L356.39 69.3 L357.45 69.22 L358.94 69.12 L361 69 L363.99 68.84 L367.82 68.66 L371.94 68.46 L375.85 68.24 L379 68 L381.29 67.78 L383.06 67.57 L384.5 67.34 L385.75 67.03 L387 66.6 L388.21 66.07 L389.26 65.24 L390.22 64.32 L391.11 63.95 L392 62.8 L392.87 61.97 L393.7 61.17 L394.49 60.38 L395.25 59.56 L396 57.97 L396.73 56.95 L397.44 55.41 L398.13 53.24 L398.78 51.41 L399.4 49.76 L399.97 48.5 L400.5 46.54 L401 44.94 L401.49 43.15 L402 41.11 L402.52 39.18 L403.05 36.95 L403.57 35.05 L404.09 33.82 L404.6 32.12 L405.1 30.75 L405.59 29.31 L406.08 28.19 L406.55 27.08 L407 26.28 L407.42 24.79 L407.81 24.17 L408.19 23.28 L408.58 23.1 L409 22.86 L409.45 22.49 L409.92 22.72 L410.41 23.39 L410.9 24.13 L411.4 25.19 L411.9 25.74 L412.41 26.89 L412.92 27.59 L413.45 28.85 L414 29.78 L414.57 31.34 L415.17 32.57 L415.78 34.21 L416.39 35.75 L417 37.01 L417.6 38.4 L418.2 40.86 L418.8 42.76 L419.4 44.28 L420 45.99 L420.58 47.83 L421.15 48.77 L421.73 50.12 L422.34 51.77 L423 53.12 L423.72 54.56 L424.48 56.13 L425.28 57.35 L426.12 58.67 L427 59.81 L427.94 60.97 L428.93 62.18 L429.95 63.24 L430.98 64.37 L432 65.08 L432.95 65.67 L433.86 66.1 L434.78 66.62 L435.81 67.01 L437 67.4 L438.38 67.79 L439.89 68.16 L441.51 68.48 L443.22 68.77 L445 69 L447.03 69.16 L449.34 69.27 L451.62 69.33 L453.61 69.36 L455 69.4 L498.8 69.4" fill="none" stroke="#4e7f2a" stroke-width="1.0" stroke-linejoin="round"/>
<path d="M349.9 94.4 L360 94.4 L362.07 94.3 L365.02 94.18 L368.42 94.02 L371.89 93.82 L375 93.6 L377.84 93.35 L380.68 93.08 L383.4 92.78 L385.88 92.42 L388 92 L389.68 91.52 L391 90.66 L392.08 90.14 L393.04 89.68 L394 89.13 L394.94 87.91 L395.79 86.97 L396.57 86.05 L397.3 85.34 L398 83.75 L398.66 82.93 L399.27 81.55 L399.85 79.79 L400.42 78.58 L401 76.96 L401.6 75.25 L402.2 73.84 L402.8 71.34 L403.4 69.43 L404 68.31 L404.6 66.25 L405.2 64.47 L405.8 62.96 L406.4 61.43 L407 60.32 L407.61 58.29 L408.22 56.81 L408.83 55.62 L409.43 54.25 L410 53.32 L410.56 52.07 L411.1 50.58 L411.62 49.47 L412.12 49.17 L412.6 48.94 L413.03 48.44 L413.42 49.53 L413.8 50.48 L414.18 51.26 L414.6 51.8 L415.04 52.95 L415.5 53.67 L415.98 54.08 L416.48 55.23 L417 55.8 L417.56 56.58 L418.16 57.72 L418.77 58.69 L419.39 59.78 L420 61.1 L420.58 62.49 L421.15 63.93 L421.73 65.37 L422.34 66.85 L423 68.2 L423.74 69.43 L424.53 71 L425.35 72.98 L426.18 74.54 L427 76.12 L427.78 77.06 L428.55 78.38 L429.33 80.06 L430.14 80.97 L431 82.14 L431.92 82.8 L432.88 84.07 L433.88 85.44 L434.92 86.21 L436 87.34 L437.12 87.62 L438.28 88.59 L439.48 89.55 L440.72 89.97 L442 90.8 L443.35 91.16 L444.78 91.56 L446.22 91.95 L447.65 92.29 L449 92.6 L450.15 92.87 L451.14 93.08 L452.14 93.26 L453.37 93.43 L455 93.6 L457.36 93.79 L460.32 93.97 L463.4 94.15 L466.12 94.29 L468 94.4 L498.8 94.4Z" fill="rgb(96,236,50)" fill-opacity="0.64" stroke="none"/>
<path d="M349.9 94.4 L360 94.4 L362.07 94.3 L365.02 94.18 L368.42 94.02 L371.89 93.82 L375 93.6 L377.84 93.35 L380.68 93.08 L383.4 92.78 L385.88 92.42 L388 92 L389.68 91.52 L391 90.66 L392.08 90.14 L393.04 89.68 L394 89.13 L394.94 87.91 L395.79 86.97 L396.57 86.05 L397.3 85.34 L398 83.75 L398.66 82.93 L399.27 81.55 L399.85 79.79 L400.42 78.58 L401 76.96 L401.6 75.25 L402.2 73.84 L402.8 71.34 L403.4 69.43 L404 68.31 L404.6 66.25 L405.2 64.47 L405.8 62.96 L406.4 61.43 L407 60.32 L407.61 58.29 L408.22 56.81 L408.83 55.62 L409.43 54.25 L410 53.32 L410.56 52.07 L411.1 50.58 L411.62 49.47 L412.12 49.17 L412.6 48.94 L413.03 48.44 L413.42 49.53 L413.8 50.48 L414.18 51.26 L414.6 51.8 L415.04 52.95 L415.5 53.67 L415.98 54.08 L416.48 55.23 L417 55.8 L417.56 56.58 L418.16 57.72 L418.77 58.69 L419.39 59.78 L420 61.1 L420.58 62.49 L421.15 63.93 L421.73 65.37 L422.34 66.85 L423 68.2 L423.74 69.43 L424.53 71 L425.35 72.98 L426.18 74.54 L427 76.12 L427.78 77.06 L428.55 78.38 L429.33 80.06 L430.14 80.97 L431 82.14 L431.92 82.8 L432.88 84.07 L433.88 85.44 L434.92 86.21 L436 87.34 L437.12 87.62 L438.28 88.59 L439.48 89.55 L440.72 89.97 L442 90.8 L443.35 91.16 L444.78 91.56 L446.22 91.95 L447.65 92.29 L449 92.6 L450.15 92.87 L451.14 93.08 L452.14 93.26 L453.37 93.43 L455 93.6 L457.36 93.79 L460.32 93.97 L463.4 94.15 L466.12 94.29 L468 94.4 L498.8 94.4" fill="none" stroke="#6ee84a" stroke-width="1.0" stroke-linejoin="round"/>
<path d="M349.9 119.4 L355 119.4 L356.26 119.36 L357.99 119.33 L360.09 119.27 L362.46 119.16 L365 119 L367.93 118.77 L371.3 118.48 L374.82 118.16 L378.15 117.79 L381 117.4 L383.31 117 L385.3 116.57 L387.02 115.82 L388.57 115.39 L390 114.86 L391.28 114.63 L392.36 113.66 L393.29 113.05 L394.15 111.74 L395 111.01 L395.82 110.06 L396.58 108.53 L397.28 107.4 L397.95 105.84 L398.6 103.91 L399.21 101.98 L399.79 100.72 L400.33 98.43 L400.87 96.49 L401.4 95.16 L401.93 93.41 L402.45 91.54 L402.97 89.77 L403.48 87.46 L404 85.71 L404.52 84.17 L405.05 83.29 L405.57 81.29 L406.09 80 L406.6 78.66 L407.08 77.49 L407.55 76.34 L408.01 75.51 L408.48 74.48 L409 73.87 L409.58 73.73 L410.2 72.74 L410.84 72.92 L411.45 72.85 L412 73.05 L412.45 73.79 L412.84 75.04 L413.2 76.25 L413.58 77.43 L414 78.88 L414.47 80.14 L414.96 81.61 L415.47 83.42 L416.02 84.47 L416.6 85.7 L417.24 87.54 L417.92 89.39 L418.63 90.79 L419.33 92.59 L420 93.71 L420.61 95.16 L421.18 96.99 L421.75 97.93 L422.34 99.48 L423 100.92 L423.72 102.22 L424.48 103.57 L425.28 105 L426.12 107.04 L427 108.13 L427.92 109.47 L428.88 110.21 L429.88 111.51 L430.92 112.38 L432 113.08 L433.12 113.86 L434.28 114.63 L435.48 115.16 L436.72 115.93 L438 116.6 L439.29 117.09 L440.58 117.5 L441.94 117.84 L443.39 118.13 L445 118.4 L446.86 118.63 L448.93 118.82 L451.07 118.97 L453.14 119.09 L455 119.2 L456.7 119.28 L458.35 119.33 L459.85 119.36 L461.1 119.38 L462 119.4 L498.8 119.4Z" fill="rgb(246,144,53)" fill-opacity="0.64" stroke="none"/>
<path d="M349.9 119.4 L355 119.4 L356.26 119.36 L357.99 119.33 L360.09 119.27 L362.46 119.16 L365 119 L367.93 118.77 L371.3 118.48 L374.82 118.16 L378.15 117.79 L381 117.4 L383.31 117 L385.3 116.57 L387.02 115.82 L388.57 115.39 L390 114.86 L391.28 114.63 L392.36 113.66 L393.29 113.05 L394.15 111.74 L395 111.01 L395.82 110.06 L396.58 108.53 L397.28 107.4 L397.95 105.84 L398.6 103.91 L399.21 101.98 L399.79 100.72 L400.33 98.43 L400.87 96.49 L401.4 95.16 L401.93 93.41 L402.45 91.54 L402.97 89.77 L403.48 87.46 L404 85.71 L404.52 84.17 L405.05 83.29 L405.57 81.29 L406.09 80 L406.6 78.66 L407.08 77.49 L407.55 76.34 L408.01 75.51 L408.48 74.48 L409 73.87 L409.58 73.73 L410.2 72.74 L410.84 72.92 L411.45 72.85 L412 73.05 L412.45 73.79 L412.84 75.04 L413.2 76.25 L413.58 77.43 L414 78.88 L414.47 80.14 L414.96 81.61 L415.47 83.42 L416.02 84.47 L416.6 85.7 L417.24 87.54 L417.92 89.39 L418.63 90.79 L419.33 92.59 L420 93.71 L420.61 95.16 L421.18 96.99 L421.75 97.93 L422.34 99.48 L423 100.92 L423.72 102.22 L424.48 103.57 L425.28 105 L426.12 107.04 L427 108.13 L427.92 109.47 L428.88 110.21 L429.88 111.51 L430.92 112.38 L432 113.08 L433.12 113.86 L434.28 114.63 L435.48 115.16 L436.72 115.93 L438 116.6 L439.29 117.09 L440.58 117.5 L441.94 117.84 L443.39 118.13 L445 118.4 L446.86 118.63 L448.93 118.82 L451.07 118.97 L453.14 119.09 L455 119.2 L456.7 119.28 L458.35 119.33 L459.85 119.36 L461.1 119.38 L462 119.4 L498.8 119.4" fill="none" stroke="#f49a48" stroke-width="1.0" stroke-linejoin="round"/>
<path d="M349.9 144.4 L352 144.4 L352.71 144.36 L353.58 144.3 L354.78 144.22 L356.53 144.12 L359 144 L362.66 143.85 L367.39 143.69 L372.49 143.5 L377.26 143.27 L381 143 L383.53 142.7 L385.3 142.37 L386.62 141.99 L387.75 141.54 L389 141.05 L390.37 140.45 L391.66 139.86 L392.87 138.68 L393.99 138.07 L395 137.27 L395.89 136.25 L396.65 134.62 L397.33 133.75 L397.97 132.44 L398.6 131 L399.21 129.85 L399.79 127.96 L400.33 126.26 L400.87 124.94 L401.4 123.09 L401.93 121.26 L402.44 119.67 L402.94 118.2 L403.46 116.29 L404 115.08 L404.57 113.52 L405.17 111.62 L405.78 110.26 L406.39 108.73 L407 107.04 L407.6 105.83 L408.2 104.22 L408.8 103.08 L409.4 102.76 L410 101.45 L410.6 100.71 L411.2 100.62 L411.8 100.09 L412.4 99.4 L413 99.48 L413.6 99.61 L414.2 100.06 L414.8 100.44 L415.4 101.43 L416 101.86 L416.6 102.42 L417.2 102.74 L417.8 103.21 L418.4 103.81 L419 105.26 L419.6 106.33 L420.2 107.6 L420.8 108.82 L421.4 110.35 L422 111.73 L422.58 113.15 L423.15 114.21 L423.73 115.56 L424.34 116.67 L425 117.78 L425.74 119.19 L426.53 120.09 L427.35 121.1 L428.18 121.98 L429 123.03 L429.8 124.05 L430.59 124.49 L431.38 125.08 L432.18 126.14 L433 126.92 L433.83 128.15 L434.68 128.72 L435.54 130.31 L436.41 130.73 L437.3 132.03 L438.21 132.78 L439.14 133.44 L440.08 134.54 L441.03 135.08 L442 135.36 L442.98 136.24 L443.99 136.95 L445 137.15 L446.01 137.76 L447 138.67 L447.93 139.29 L448.82 139.6 L449.72 140.04 L450.69 140.56 L451.8 140.83 L453.06 141.44 L454.43 141.88 L455.89 142.29 L457.42 142.67 L459 143 L460.6 143.27 L462.24 143.5 L463.96 143.69 L465.8 143.85 L467.8 144 L470.22 144.12 L473.02 144.22 L475.84 144.3 L478.29 144.36 L480 144.4 L498.8 144.4Z" fill="rgb(0,238,250)" fill-opacity="0.7" stroke="none"/>
<path d="M349.9 144.4 L352 144.4 L352.71 144.36 L353.58 144.3 L354.78 144.22 L356.53 144.12 L359 144 L362.66 143.85 L367.39 143.69 L372.49 143.5 L377.26 143.27 L381 143 L383.53 142.7 L385.3 142.37 L386.62 141.99 L387.75 141.54 L389 141.05 L390.37 140.45 L391.66 139.86 L392.87 138.68 L393.99 138.07 L395 137.27 L395.89 136.25 L396.65 134.62 L397.33 133.75 L397.97 132.44 L398.6 131 L399.21 129.85 L399.79 127.96 L400.33 126.26 L400.87 124.94 L401.4 123.09 L401.93 121.26 L402.44 119.67 L402.94 118.2 L403.46 116.29 L404 115.08 L404.57 113.52 L405.17 111.62 L405.78 110.26 L406.39 108.73 L407 107.04 L407.6 105.83 L408.2 104.22 L408.8 103.08 L409.4 102.76 L410 101.45 L410.6 100.71 L411.2 100.62 L411.8 100.09 L412.4 99.4 L413 99.48 L413.6 99.61 L414.2 100.06 L414.8 100.44 L415.4 101.43 L416 101.86 L416.6 102.42 L417.2 102.74 L417.8 103.21 L418.4 103.81 L419 105.26 L419.6 106.33 L420.2 107.6 L420.8 108.82 L421.4 110.35 L422 111.73 L422.58 113.15 L423.15 114.21 L423.73 115.56 L424.34 116.67 L425 117.78 L425.74 119.19 L426.53 120.09 L427.35 121.1 L428.18 121.98 L429 123.03 L429.8 124.05 L430.59 124.49 L431.38 125.08 L432.18 126.14 L433 126.92 L433.83 128.15 L434.68 128.72 L435.54 130.31 L436.41 130.73 L437.3 132.03 L438.21 132.78 L439.14 133.44 L440.08 134.54 L441.03 135.08 L442 135.36 L442.98 136.24 L443.99 136.95 L445 137.15 L446.01 137.76 L447 138.67 L447.93 139.29 L448.82 139.6 L449.72 140.04 L450.69 140.56 L451.8 140.83 L453.06 141.44 L454.43 141.88 L455.89 142.29 L457.42 142.67 L459 143 L460.6 143.27 L462.24 143.5 L463.96 143.69 L465.8 143.85 L467.8 144 L470.22 144.12 L473.02 144.22 L475.84 144.3 L478.29 144.36 L480 144.4 L498.8 144.4" fill="none" stroke="#2ce6f2" stroke-width="1.0" stroke-linejoin="round"/>
<path d="M349.9 168.4 L442 168.4 L442.21 168.36 L442.5 168.34 L442.86 168.27 L443.29 168.05 L443.8 167.6 L444.44 166.91 L445.22 166.04 L446.04 165.03 L446.83 163.88 L447.5 162.74 L448.03 161.32 L448.48 159.69 L448.88 157.57 L449.24 156.1 L449.6 153.75 L449.94 151.55 L450.26 149.16 L450.55 147.1 L450.83 144.42 L451.1 142.04 L451.36 139.63 L451.61 136.88 L451.85 134.01 L452.08 130.94 L452.3 128.79 L452.51 127.26 L452.71 126.1 L452.91 125.27 L453.1 124.55 L453.3 124.3 L453.5 124.12 L453.69 124.59 L453.89 125.12 L454.09 126.19 L454.3 127.39 L454.52 129.2 L454.76 131.14 L455 133.25 L455.24 135.39 L455.5 137.75 L455.77 140.18 L456.04 143.4 L456.32 146.1 L456.61 148.87 L456.9 151.12 L457.2 152.51 L457.51 153.9 L457.82 155.2 L458.12 156.5 L458.4 156.9 L458.65 156.6 L458.87 156.33 L459.09 155.22 L459.29 154.73 L459.5 153.51 L459.7 153.38 L459.88 152.89 L460.07 151.92 L460.27 151.58 L460.5 151.34 L460.76 151.9 L461.05 152.7 L461.36 153.78 L461.68 154.71 L462 155.86 L462.31 156.64 L462.62 157.89 L462.94 158.74 L463.29 159.48 L463.7 160.71 L464.17 160.83 L464.7 161.42 L465.26 162.04 L465.83 162.29 L466.4 162.83 L466.96 163.01 L467.51 163.65 L468.08 163.53 L468.67 164.44 L469.3 164.59 L469.98 164.98 L470.69 165.51 L471.43 165.9 L472.17 166.26 L472.9 166.6 L473.62 166.91 L474.34 167.2 L475.07 167.47 L475.79 167.7 L476.5 167.9 L477.26 168.06 L478.08 168.18 L478.86 168.27 L479.53 168.34 L480 168.4 L498.8 168.4Z" fill="rgb(243,50,50)" fill-opacity="0.66" stroke="none"/>
<path d="M349.9 168.4 L442 168.4 L442.21 168.36 L442.5 168.34 L442.86 168.27 L443.29 168.05 L443.8 167.6 L444.44 166.91 L445.22 166.04 L446.04 165.03 L446.83 163.88 L447.5 162.74 L448.03 161.32 L448.48 159.69 L448.88 157.57 L449.24 156.1 L449.6 153.75 L449.94 151.55 L450.26 149.16 L450.55 147.1 L450.83 144.42 L451.1 142.04 L451.36 139.63 L451.61 136.88 L451.85 134.01 L452.08 130.94 L452.3 128.79 L452.51 127.26 L452.71 126.1 L452.91 125.27 L453.1 124.55 L453.3 124.3 L453.5 124.12 L453.69 124.59 L453.89 125.12 L454.09 126.19 L454.3 127.39 L454.52 129.2 L454.76 131.14 L455 133.25 L455.24 135.39 L455.5 137.75 L455.77 140.18 L456.04 143.4 L456.32 146.1 L456.61 148.87 L456.9 151.12 L457.2 152.51 L457.51 153.9 L457.82 155.2 L458.12 156.5 L458.4 156.9 L458.65 156.6 L458.87 156.33 L459.09 155.22 L459.29 154.73 L459.5 153.51 L459.7 153.38 L459.88 152.89 L460.07 151.92 L460.27 151.58 L460.5 151.34 L460.76 151.9 L461.05 152.7 L461.36 153.78 L461.68 154.71 L462 155.86 L462.31 156.64 L462.62 157.89 L462.94 158.74 L463.29 159.48 L463.7 160.71 L464.17 160.83 L464.7 161.42 L465.26 162.04 L465.83 162.29 L466.4 162.83 L466.96 163.01 L467.51 163.65 L468.08 163.53 L468.67 164.44 L469.3 164.59 L469.98 164.98 L470.69 165.51 L471.43 165.9 L472.17 166.26 L472.9 166.6 L473.62 166.91 L474.34 167.2 L475.07 167.47 L475.79 167.7 L476.5 167.9 L477.26 168.06 L478.08 168.18 L478.86 168.27 L479.53 168.34 L480 168.4 L498.8 168.4" fill="none" stroke="#f04848" stroke-width="1.0" stroke-linejoin="round"/>
<path d="M349.4 168.4 V15.8 H499.3 V168.4" fill="none" stroke="#333" stroke-width="1.05"/>
<path d="M349 168.75 H499.7" stroke="#0a0a0a" stroke-width="1.05" stroke-opacity="0.95" fill="none"/>
<path d="M396 168.4 v2.5 M377.9 168.4 v2.5 M399.78 168.4 v2.5 M374.02 168.4 v2.5 M403.44 168.4 v2.5 M370.27 168.4 v2.5 M406.82 168.4 v2.5 M366.8 168.4 v2.5 M410.29 168.4 v2.5 M363.24 168.4 v2.5 M413.39 168.4 v2.5 M360.06 168.4 v2.5 M416.8 168.4 v2.5 M356.56 168.4 v2.5 M419.22 168.4 v2.5 M354.08 168.4 v2.5 M421.11 168.4 v2.5 M352.14 168.4 v2.5 M436.85 168.4 v2.5 M444.95 168.4 v2.5 M450.69 168.4 v2.5 M455.15 168.4 v2.5 M458.79 168.4 v2.5 M461.87 168.4 v2.5 M464.54 168.4 v2.5 M466.9 168.4 v2.5 M482.85 168.4 v2.5 M490.95 168.4 v2.5 M496.69 168.4 v2.5" stroke="#111" stroke-width="0.9" fill="none"/>
<path d="M350.2 168.4 v4.4 M423 168.4 v4.4 M469 168.4 v4.4" stroke="#000" stroke-width="1.3" fill="none"/>
<rect x="382" y="168.7" width="10" height="3.4" fill="#000"/>
<path d="M383 171.8 v1.3 M386.6 171.8 v1.3 M391 171.8 v1.4" stroke="#000" stroke-width="1.6"/>
<text x="357.5" y="184.9" text-anchor="middle" font-size="9.4">-10<tspan font-size="6" dy="-3.4">3</tspan></text>
<text x="391.7" y="184.9" text-anchor="middle" font-size="9.4">0</text>
<text x="426.6" y="184.9" text-anchor="middle" font-size="9.4">10<tspan font-size="6" dy="-3.4">3</tspan></text>
<text x="474.5" y="184.9" text-anchor="middle" font-size="9.4">10<tspan font-size="6" dy="-3.4">4</tspan></text>
<text x="434.9" y="13.4" text-anchor="middle" font-size="9.6">Apt-13</text>
</g>
<text x="226" y="196.5" font-size="9.85">FL intensity (a.u.)</text>
<rect x="512.4" y="66.3" width="7.2" height="7.6" fill="rgb(60,110,20)" fill-opacity="0.66" stroke="#4e7f2a" stroke-width="0.8"/>
<text x="522.2" y="72.6" font-size="10.1" textLength="20.4" lengthAdjust="spacingAndGlyphs">CRP</text>
<rect x="512.4" y="79.1" width="7.2" height="7.6" fill="rgb(96,231,43)" fill-opacity="0.64" stroke="#6ee44a" stroke-width="0.8"/>
<text x="522.2" y="85.4" font-size="10.1" textLength="24.2" lengthAdjust="spacingAndGlyphs">SAA1</text>
<rect x="512.4" y="92.1" width="7.2" height="7.6" fill="rgb(246,144,53)" fill-opacity="0.64" stroke="#f49a48" stroke-width="0.8"/>
<text x="522.2" y="98.4" font-size="10.1" textLength="19.4" lengthAdjust="spacingAndGlyphs">PCT</text>
<rect x="512.4" y="105.1" width="7.2" height="7.6" fill="rgb(14,193,243)" fill-opacity="0.7" stroke="#35c2ee" stroke-width="0.8"/>
<text x="522.2" y="111.4" font-size="10.1" textLength="16.6" lengthAdjust="spacingAndGlyphs">IL-6</text>
<rect x="512.4" y="117.7" width="7.2" height="7.6" fill="rgb(243,50,50)" fill-opacity="0.66" stroke="#f04848" stroke-width="0.8"/>
<text x="522.2" y="124" font-size="10.1" textLength="19.8" lengthAdjust="spacingAndGlyphs">HBP</text>
<!-- panel b -->
<text x="10.2" y="209.6" font-size="11.5">b</text>
<text x="59.4" y="214.6" font-size="9.7" fill="#111">Excitation</text>
<text x="59.4" y="226.4" font-size="9.7" fill="#111">λ = 485 nm</text>
<text x="153" y="214.5" font-size="9.7" fill="#111">Emission</text>
<text x="153" y="226.4" font-size="9.7" fill="#111">λ = 520 nm</text>
<path d="M13.6 272.96 L14.45 272.61 L15.29 271.94 L16.14 271.05 L16.98 270.07 L17.83 269.17 L18.67 268.46 L19.52 268.06 L20.36 268.04 L21.21 268.38 L22.05 269.05 L22.9 269.94 L23.74 270.91 L24.59 271.82 L25.44 272.53 L26.28 272.93 L27.13 272.97 L27.97 272.63 L28.82 271.96 L29.66 271.08 L30.51 270.1 L31.35 269.19 L32.2 268.48 L33.04 268.07 L33.89 268.03 L34.73 268.37 L35.58 269.03 L36.42 269.91 L37.27 270.88 L38.12 271.8 L38.96 272.52 L39.81 272.93 L40.65 272.97 L41.5 272.64 L42.34 271.98 L43.19 271.1 L44.03 270.13 L44.88 269.21 L45.72 268.49 L46.57 268.08 L47.41 268.03 L48.26 268.35 L49.11 269.01 L49.95 269.88 L50.8 270.86 L51.64 271.77 L52.49 272.5 L53.33 272.92 L54.18 272.98 L55.02 272.65 L55.87 272.01 L56.71 271.13 L57.56 270.16 L58.4 269.24 L59.25 268.51 L60.09 268.08 L60.94 268.02 L61.79 268.34 L62.63 268.98 L63.48 269.86 L64.32 270.83 L65.17 271.75 L66.01 272.48 L66.86 272.91 L67.7 272.98 L68.55 272.67 L69.39 272.03 L70.24 271.16 L71.08 270.19 L71.93 269.26 L72.78 268.53 L73.62 268.09 L74.47 268.02 L75.31 268.32 L76.16 268.96 L77 269.83 L77.85 270.8 L78.69 271.73 L79.54 272.47 L80.38 272.91 L81.23 272.98 L82.07 272.68 L82.92 272.05 L83.76 271.18 L84.61 270.21 L85.46 269.29 L86.3 268.54 L87.15 268.1 L87.99 268.02 L88.84 268.31 L89.68 268.94 L90.53 269.8 L91.37 270.77 L92.22 271.7 L93.06 272.45 L93.91 272.9 L94.75 272.99 L95.6 272.7" fill="none" stroke="#c4111a" stroke-width="1.5" stroke-linecap="round"/>
<circle cx="72.4" cy="271" r="3.8" fill="#333"/>
<path d="M94.2 227.4 L111.2 241.8" stroke="#222" stroke-width="1.1" stroke-dasharray="1.5 1.4" fill="none"/>
<path d="M113.4 243.8 L108.6 242.4 L111 239.6Z" fill="#222"/>
<path d="M128.2 243.4 L146.4 229.6" stroke="#222" stroke-width="1.1" stroke-dasharray="1.5 1.4" fill="none"/>
<path d="M148.8 227.8 L146.6 232.2 L144.2 229.2Z" fill="#222"/>
<path d="M124 253.9 H155.4" stroke="#222" stroke-width="1.3"/>
<circle cx="123.6" cy="253.8" r="3.7" fill="#8fc78f"/>
<defs><linearGradient id="ag" x1="0" x2="1" y1="0" y2="0"><stop offset="0" stop-color="#222" stop-opacity="0"/><stop offset="0.45" stop-color="#222" stop-opacity="0.9"/><stop offset="1" stop-color="#222"/></linearGradient></defs>
<rect x="115" y="272.8" width="45.5" height="1.6" fill="url(#ag)"/>
<path d="M165.8 273.6 L159 270.5 L159 276.7Z" fill="#222"/>
<path d="M239 252.9 H299" stroke="#a3141f" stroke-width="1.8"/>
<path d="M188.6 260.14 L190.05 260.81 L191.51 260.82 L192.96 260.17 L194.42 258.94 L195.87 257.33 L197.33 255.55 L198.78 253.87 L200.24 252.52 L201.69 251.7 L203.15 251.52 L204.6 252.01 L206.05 253.11 L207.51 254.64 L208.96 256.4 L210.42 258.13 L211.87 259.59 L213.33 260.55 L214.78 260.9 L216.24 260.57 L217.69 259.62 L219.15 258.17 L220.6 256.45 L222.05 254.68 L223.51 253.14 L224.96 252.03 L226.42 251.52 L227.87 251.68 L229.33 252.49 L230.78 253.83 L232.24 255.51 L233.69 257.29 L235.15 258.91 L236.6 260.14" fill="none" stroke="#5c0710" stroke-width="2.1" stroke-linecap="round"/>
<path d="M188.6 251.81 L190.05 252.75 L191.51 254.19 L192.96 255.91 L194.42 257.67 L195.87 259.23 L197.33 260.35 L198.78 260.87 L200.24 260.73 L201.69 259.94 L203.15 258.61 L204.6 256.94 L206.05 255.16 L207.51 253.53 L208.96 252.28 L210.42 251.6 L211.87 251.57 L213.33 252.21 L214.78 253.42 L216.24 255.03 L217.69 256.8 L219.15 258.49 L220.6 259.85 L222.05 260.69 L223.51 260.88 L224.96 260.41 L226.42 259.33 L227.87 257.8 L229.33 256.04 L230.78 254.31 L232.24 252.85 L233.69 251.86 L235.15 251.5 L236.6 251.81" fill="none" stroke="#c4111a" stroke-width="2.1" stroke-linecap="round"/>
<path d="M188.6 260.14 L190.05 260.81 L191.51 260.82" fill="none" stroke="#5c0710" stroke-width="2.1"/>
<path d="M203.15 251.52 L204.6 252.01 L206.05 253.11 L207.51 254.64 L208.96 256.4 L210.42 258.13 L211.87 259.59 L213.33 260.55 L214.78 260.9" fill="none" stroke="#5c0710" stroke-width="2.1"/>
<path d="M226.42 251.52 L227.87 251.68 L229.33 252.49 L230.78 253.83 L232.24 255.51 L233.69 257.29 L235.15 258.91 L236.6 260.14" fill="none" stroke="#5c0710" stroke-width="2.1"/>
<circle cx="238" cy="260.5" r="3.8" fill="#8a8a8a"/>
<circle cx="239.2" cy="252.8" r="3.8" fill="#3a3a3a"/>
<path d="M188.4 276.2 H219" stroke="#a3141f" stroke-width="1.8"/>
<path d="M267 276.7 H299" stroke="#a3141f" stroke-width="1.8"/>
<path d="M218.4 284.35 L219.9 284.46 L221.41 283.89 L222.91 282.71 L224.41 281.1 L225.92 279.3 L227.42 277.57 L228.92 276.17 L230.43 275.31 L231.93 275.12 L233.43 275.61 L234.94 276.73 L236.44 278.3 L237.94 280.09 L239.45 281.84 L240.95 283.29 L242.45 284.22 L243.95 284.5 L245.46 284.08 L246.96 283.03 L248.46 281.5 L249.97 279.72 L251.47 277.95 L252.97 276.46 L254.48 275.46 L255.98 275.1 L257.48 275.44 L258.99 276.42 L260.49 277.91 L261.99 279.67 L263.5 281.45 L265 282.99" fill="none" stroke="#5c0710" stroke-width="2.1" stroke-linecap="round"/>
<path d="M218.4 276.35 L219.9 277.81 L221.41 279.57 L222.91 281.36 L224.41 282.91 L225.92 284.01 L227.42 284.49 L228.92 284.27 L230.43 283.39 L231.93 281.98 L233.43 280.24 L234.94 278.45 L236.44 276.85 L237.94 275.68 L239.45 275.13 L240.95 275.27 L242.45 276.08 L243.95 277.44 L245.46 279.15 L246.96 280.95 L248.46 282.59 L249.97 283.81 L251.47 284.44 L252.97 284.38 L254.48 283.65 L255.98 282.34 L257.48 280.66 L258.99 278.85 L260.49 277.19 L261.99 275.9 L263.5 275.2 L265 275.18" fill="none" stroke="#c4111a" stroke-width="2.1" stroke-linecap="round"/>
<path d="M218.4 284.35 L219.9 284.46" fill="none" stroke="#5c0710" stroke-width="2.1"/>
<path d="M231.93 275.12 L233.43 275.61 L234.94 276.73 L236.44 278.3 L237.94 280.09 L239.45 281.84 L240.95 283.29 L242.45 284.22 L243.95 284.5" fill="none" stroke="#5c0710" stroke-width="2.1"/>
<path d="M255.98 275.1 L257.48 275.44 L258.99 276.42 L260.49 277.91 L261.99 279.67 L263.5 281.45 L265 282.99" fill="none" stroke="#5c0710" stroke-width="2.1"/>
<circle cx="266.1" cy="283.8" r="3.8" fill="#8a8a8a"/>
<circle cx="267.4" cy="275.8" r="3.8" fill="#3a3a3a"/>
<path d="M188.4 304.5 H248" stroke="#a3141f" stroke-width="1.8"/>
<path d="M251 297.45 L252.47 298.99 L253.95 300.74 L255.43 302.46 L256.9 303.89 L258.38 304.84 L259.85 305.15 L261.32 304.79 L262.8 303.81 L264.27 302.35 L265.75 300.62 L267.23 298.87 L268.7 297.36 L270.18 296.31 L271.65 295.86 L273.12 296.08 L274.6 296.95 L276.07 298.32 L277.55 300.02 L279.02 301.78 L280.5 303.36 L281.98 304.52 L283.45 305.1 L284.93 305.02 L286.4 304.28 L287.88 302.99 L289.35 301.34 L290.82 299.57 L292.3 297.94 L293.77 296.67 L295.25 295.96 L296.72 295.91 L298.2 296.52" fill="none" stroke="#5c0710" stroke-width="2.1" stroke-linecap="round"/>
<path d="M251 305.11 L252.47 305 L253.95 304.24 L255.43 302.94 L256.9 301.28 L258.38 299.51 L259.85 297.89 L261.32 296.64 L262.8 295.95 L264.27 295.92 L265.75 296.56 L267.23 297.76 L268.7 299.36 L270.18 301.13 L271.65 302.81 L273.12 304.15 L274.6 304.96 L276.07 305.13 L277.55 304.62 L279.02 303.52 L280.5 301.98 L281.98 300.23 L283.45 298.51 L284.93 297.09 L286.4 296.15 L287.88 295.85 L289.35 296.22 L290.82 297.21 L292.3 298.68 L293.77 300.41 L295.25 302.15 L296.72 303.66 L298.2 304.7" fill="none" stroke="#c4111a" stroke-width="2.1" stroke-linecap="round"/>
<path d="M251 297.45 L252.47 298.99 L253.95 300.74 L255.43 302.46 L256.9 303.89 L258.38 304.84 L259.85 305.15" fill="none" stroke="#5c0710" stroke-width="2.1"/>
<path d="M271.65 295.86 L273.12 296.08 L274.6 296.95 L276.07 298.32 L277.55 300.02 L279.02 301.78 L280.5 303.36 L281.98 304.52 L283.45 305.1" fill="none" stroke="#5c0710" stroke-width="2.1"/>
<path d="M296.72 295.91 L298.2 296.52" fill="none" stroke="#5c0710" stroke-width="2.1"/>
<circle cx="248.8" cy="297.2" r="3.8" fill="#8a8a8a"/>
<circle cx="248.4" cy="305" r="3.8" fill="#3a3a3a"/>
<rect x="17.6" y="317.8" width="280.4" height="43" rx="6.5" ry="6.5" fill="#edf2fb" stroke="#86a3da" stroke-width="1.2"/>
<path d="M27 341.89 L27.85 341.79 L28.7 341.33 L29.55 340.57 L30.39 339.64 L31.24 338.67 L32.09 337.81 L32.94 337.19 L33.79 336.91 L34.64 337.01 L35.48 337.47 L36.33 338.22 L37.18 339.15 L38.03 340.12 L38.88 340.98 L39.73 341.6 L40.57 341.89 L41.42 341.8 L42.27 341.34 L43.12 340.6 L43.97 339.67 L44.82 338.7 L45.67 337.83 L46.51 337.21 L47.36 336.92 L48.21 337 L49.06 337.45 L49.91 338.19 L50.76 339.12 L51.6 340.09 L52.45 340.95 L53.3 341.58 L54.15 341.88 L55 341.81 L55.85 341.36 L56.69 340.62 L57.54 339.7 L58.39 338.73 L59.24 337.86 L60.09 337.22 L60.94 336.92 L61.79 336.99 L62.63 337.43 L63.48 338.17 L64.33 339.09 L65.18 340.06 L66.03 340.93 L66.88 341.57 L67.72 341.88 L68.57 341.81 L69.42 341.38 L70.27 340.65 L71.12 339.72 L71.97 338.75 L72.81 337.88 L73.66 337.24 L74.51 336.92 L75.36 336.98 L76.21 337.41 L77.06 338.14 L77.91 339.06 L78.75 340.03 L79.6 340.91 L80.45 341.56 L81.3 341.88 L82.15 341.82 L83 341.4 L83.84 340.67 L84.69 339.75 L85.54 338.78 L86.39 337.9 L87.24 337.25 L88.09 336.93 L88.93 336.98 L89.78 337.39 L90.63 338.12 L91.48 339.03 L92.33 340 L93.18 340.89 L94.03 341.54 L94.87 341.87 L95.72 341.83 L96.57 341.42 L97.42 340.7 L98.27 339.78 L99.12 338.81 L99.96 337.93 L100.81 337.27 L101.66 336.93 L102.51 336.97 L103.36 337.38 L104.21 338.09 L105.05 339 L105.9 339.98 L106.75 340.86 L107.6 341.53" fill="none" stroke="#c4111a" stroke-width="1.5" stroke-linecap="round"/>
<circle cx="85" cy="339.6" r="3.8" fill="#333"/>
<text x="115" y="342.2" font-size="9.7" fill="#111">Apt-01-BHQ1</text>
<path d="M190 338.5 H221.2" stroke="#222" stroke-width="1.3"/>
<circle cx="189.6" cy="338.4" r="3.5" fill="#8fc78f"/>
<text x="231.9" y="342.2" font-size="9.7" fill="#111">cDNA-FAM</text>
<!-- panel c -->
<text x="10" y="376.4" font-size="11.5">c</text>
<defs><linearGradient id="bg" x1="0" x2="0" y1="0" y2="1"><stop offset="0" stop-color="#898989"/><stop offset="1" stop-color="#696969"/></linearGradient></defs>
<rect x="57.6" y="402" width="33" height="134.2" fill="url(#bg)"/>
<rect x="99.4" y="385" width="32.6" height="151.2" fill="url(#bg)"/>
<rect x="141" y="510" width="33" height="26.2" fill="url(#bg)"/>
<rect x="182.6" y="477" width="33" height="59.2" fill="url(#bg)"/>
<rect x="224" y="508.4" width="33" height="27.8" fill="url(#bg)"/>
<path d="M74.1 401.9 V402 M71.7 401.9 h4.8 M71.7 402 h4.8 M116 381.6 V387.8 M113.6 381.6 h4.8 M113.6 387.8 h4.8 M157.6 502.4 V516.6 M155.2 502.4 h4.8 M155.2 516.6 h4.8 M199.4 467.4 V486.4 M197 467.4 h4.8 M197 486.4 h4.8 M240.6 505 V511.4 M238.2 505 h4.8 M238.2 511.4 h4.8" stroke="#1a1a1a" stroke-width="0.85" fill="none"/>
<rect x="53" y="369.2" width="208.6" height="167" fill="none" stroke="#2a2a2a" stroke-width="1"/>
<path d="M53 369.4 h2.6 M53 397.2 h2.6 M53 425 h2.6 M53 452.8 h2.6 M53 480.6 h2.6 M53 508.4 h2.6 M53 536.2 h2.6 M74.1 536.2 v-2 M115.7 536.2 v-2 M157.5 536.2 v-2 M199.1 536.2 v-2 M240.5 536.2 v-2" stroke="#2a2a2a" stroke-width="0.9" fill="none"/>
<text x="48.6" y="374.7" text-anchor="end" font-size="9">75</text>
<text x="48.6" y="400.5" text-anchor="end" font-size="9">60</text>
<text x="48.6" y="428.3" text-anchor="end" font-size="9">45</text>
<text x="48.6" y="456.1" text-anchor="end" font-size="9">30</text>
<text x="48.6" y="483.9" text-anchor="end" font-size="9">15</text>
<text x="48.6" y="511.7" text-anchor="end" font-size="9">0</text>
<text x="48.6" y="540.1" text-anchor="end" font-size="9">-15</text>
<text x="73.1" y="547.5" text-anchor="middle" font-size="9">C1</text>
<text x="114.7" y="547.5" text-anchor="middle" font-size="9">C2</text>
<text x="156.5" y="547.5" text-anchor="middle" font-size="9">C3</text>
<text x="198.1" y="547.5" text-anchor="middle" font-size="9">C4</text>
<text x="239.5" y="547.5" text-anchor="middle" font-size="9">C5</text>
<text x="148.7" y="561" text-anchor="middle" font-size="9.7">cDNA</text>
<text transform="translate(29.8 502) rotate(-90)" font-size="9.8" fill="#222">FL burst efficiency (%)</text>
<!-- panel d -->
<text x="314" y="211" font-size="11.5">d</text>
<defs><filter id="b05" filterUnits="userSpaceOnUse" x="330" y="228" width="226" height="216"><feGaussianBlur stdDeviation="0.5"/></filter><filter id="b07" filterUnits="userSpaceOnUse" x="330" y="228" width="226" height="216"><feGaussianBlur stdDeviation="0.75"/></filter><filter id="b1" filterUnits="userSpaceOnUse" x="330" y="228" width="226" height="216"><feGaussianBlur stdDeviation="0.9"/></filter><filter id="b2" filterUnits="userSpaceOnUse" x="330" y="228" width="226" height="216"><feGaussianBlur stdDeviation="1.6"/></filter><filter id="b3" filterUnits="userSpaceOnUse" x="330" y="228" width="226" height="216"><feGaussianBlur stdDeviation="2.8"/></filter><filter id="b5" filterUnits="userSpaceOnUse" x="330" y="228" width="226" height="216"><feGaussianBlur stdDeviation="5"/></filter><clipPath id="gelclip"><rect x="340.8" y="238.3" width="203.8" height="195.1"/></clipPath></defs>
<rect x="340.8" y="238.3" width="203.8" height="195.1" fill="#202020"/>
<defs><linearGradient id="sm5" x1="0" x2="0" y1="0" y2="1"><stop offset="0" stop-color="#fff" stop-opacity="0"/><stop offset="0.05" stop-color="#fff" stop-opacity="0.05"/><stop offset="0.45" stop-color="#fff" stop-opacity="0.07"/><stop offset="0.6" stop-color="#fff" stop-opacity="0.16"/><stop offset="0.72" stop-color="#fff" stop-opacity="0.38"/><stop offset="0.8" stop-color="#fff" stop-opacity="0.56"/><stop offset="0.87" stop-color="#fff" stop-opacity="0.42"/><stop offset="1" stop-color="#fff" stop-opacity="0"/></linearGradient><linearGradient id="sm6" x1="0" x2="0" y1="0" y2="1"><stop offset="0" stop-color="#fff" stop-opacity="0"/><stop offset="0.3" stop-color="#fff" stop-opacity="0.06"/><stop offset="0.5" stop-color="#fff" stop-opacity="0.2"/><stop offset="0.66" stop-color="#fff" stop-opacity="0.48"/><stop offset="0.75" stop-color="#fff" stop-opacity="0.64"/><stop offset="0.85" stop-color="#fff" stop-opacity="0.4"/><stop offset="1" stop-color="#fff" stop-opacity="0"/></linearGradient><linearGradient id="mk" x1="0" x2="0" y1="0" y2="1"><stop offset="0" stop-color="#fff" stop-opacity="0.07"/><stop offset="0.22" stop-color="#fff" stop-opacity="0.07"/><stop offset="0.3" stop-color="#fff" stop-opacity="0.2"/><stop offset="0.48" stop-color="#fff" stop-opacity="0.19"/><stop offset="0.75" stop-color="#fff" stop-opacity="0.08"/><stop offset="1" stop-color="#fff" stop-opacity="0.02"/></linearGradient></defs>
<g clip-path="url(#gelclip)">
<rect x="340" y="238" width="9" height="195" fill="#fff" opacity="0.04" filter="url(#b3)"/>
<rect x="341.3" y="238.8" width="202.8" height="194.1" fill="none" stroke="#0e0e0e" stroke-width="1" opacity="0.7"/>
<rect x="355.5" y="240" width="13.5" height="7.4" fill="#0c0c0c" opacity="0.22" filter="url(#b1)"/>
<rect x="382.9" y="240" width="14" height="7.4" fill="#0c0c0c" opacity="0.22" filter="url(#b1)"/>
<rect x="409.5" y="240" width="14" height="7.4" fill="#0c0c0c" opacity="0.22" filter="url(#b1)"/>
<rect x="436.5" y="240" width="15" height="7.4" fill="#0c0c0c" opacity="0.22" filter="url(#b1)"/>
<rect x="464.2" y="240" width="15.3" height="7.4" fill="#0c0c0c" opacity="0.22" filter="url(#b1)"/>
<rect x="491.5" y="240" width="16.6" height="7.4" fill="#0c0c0c" opacity="0.22" filter="url(#b1)"/>
<rect x="518.5" y="240" width="18" height="7.4" fill="#0c0c0c" opacity="0.22" filter="url(#b1)"/>
<path d="M383.4 249.6 Q389.9 249.6 396.4 249.6" stroke="#fff" stroke-width="1.5" stroke-opacity="0.09" fill="none" stroke-linecap="butt" filter="url(#b1)"/>
<path d="M410 249.6 Q416.5 249.6 423 249.6" stroke="#fff" stroke-width="1.5" stroke-opacity="0.07" fill="none" stroke-linecap="butt" filter="url(#b1)"/>
<path d="M437 249.6 Q444 249.6 451 249.6" stroke="#fff" stroke-width="1.5" stroke-opacity="0.05" fill="none" stroke-linecap="butt" filter="url(#b1)"/>
<path d="M464.7 249.6 Q471.85 249.6 479 249.6" stroke="#fff" stroke-width="1.5" stroke-opacity="0.08" fill="none" stroke-linecap="butt" filter="url(#b1)"/>
<path d="M492 249.6 Q499.8 249.6 507.6 249.6" stroke="#fff" stroke-width="1.5" stroke-opacity="0.07" fill="none" stroke-linecap="butt" filter="url(#b1)"/>
<path d="M519 249.6 Q527.5 249.6 536 249.6" stroke="#fff" stroke-width="1.5" stroke-opacity="0.04" fill="none" stroke-linecap="butt" filter="url(#b1)"/>
<rect x="351.8" y="250" width="16.6" height="132" fill="url(#mk)" filter="url(#b2)"/>
<path d="M354.4 249.8 Q362.2 250.6 370 249.8" stroke="#fff" stroke-width="3.9" stroke-opacity="0.14400000000000002" fill="none" stroke-linecap="butt" filter="url(#b2)"/>
<path d="M354.5 249.8 Q362.2 250.6 369.9 249.8" stroke="#fff" stroke-width="2" stroke-opacity="0.48600000000000004" fill="none" stroke-linecap="butt" filter="url(#b07)"/>
<path d="M351 284.5 Q359.8 286.2 368.6 286.3" stroke="#fff" stroke-width="4" stroke-opacity="0.24" fill="none" stroke-linecap="butt" filter="url(#b2)"/>
<path d="M351.1 284.5 Q359.8 286.2 368.5 286.3" stroke="#fff" stroke-width="2.1" stroke-opacity="0.81" fill="none" stroke-linecap="butt" filter="url(#b07)"/>
<path d="M351 291.3 Q359.8 292.8 368.6 292.7" stroke="#fff" stroke-width="3.8" stroke-opacity="0.192" fill="none" stroke-linecap="butt" filter="url(#b2)"/>
<path d="M351.1 291.3 Q359.8 292.8 368.5 292.7" stroke="#fff" stroke-width="1.9" stroke-opacity="0.648" fill="none" stroke-linecap="butt" filter="url(#b07)"/>
<path d="M351 295.6 Q359.8 297 368.6 296.8" stroke="#fff" stroke-width="3.7" stroke-opacity="0.16" fill="none" stroke-linecap="butt" filter="url(#b2)"/>
<path d="M351.1 295.6 Q359.8 297 368.5 296.8" stroke="#fff" stroke-width="1.8" stroke-opacity="0.54" fill="none" stroke-linecap="butt" filter="url(#b07)"/>
<path d="M351 302.5 Q359.9 304.2 368.8 304.3" stroke="#fff" stroke-width="4.3" stroke-opacity="0.304" fill="none" stroke-linecap="butt" filter="url(#b2)"/>
<path d="M351.1 302.5 Q359.9 304.2 368.7 304.3" stroke="#fff" stroke-width="2.4" stroke-opacity="1" fill="none" stroke-linecap="butt" filter="url(#b07)"/>
<path d="M351 311.5 Q359.8 313 368.6 312.9" stroke="#fff" stroke-width="3.9" stroke-opacity="0.1984" fill="none" stroke-linecap="butt" filter="url(#b2)"/>
<path d="M351.1 311.5 Q359.8 313 368.5 312.9" stroke="#fff" stroke-width="2" stroke-opacity="0.6696000000000001" fill="none" stroke-linecap="butt" filter="url(#b07)"/>
<path d="M351.4 322.8 Q360 324.2 368.6 324" stroke="#fff" stroke-width="3.9" stroke-opacity="0.17600000000000002" fill="none" stroke-linecap="butt" filter="url(#b2)"/>
<path d="M351.5 322.8 Q360 324.2 368.5 324" stroke="#fff" stroke-width="2" stroke-opacity="0.5940000000000001" fill="none" stroke-linecap="butt" filter="url(#b07)"/>
<path d="M351.6 341.3 Q360.2 342.6 368.8 342.3" stroke="#fff" stroke-width="4.3" stroke-opacity="0.2304" fill="none" stroke-linecap="butt" filter="url(#b2)"/>
<path d="M351.7 341.3 Q360.2 342.6 368.7 342.3" stroke="#fff" stroke-width="2.4" stroke-opacity="0.7776000000000001" fill="none" stroke-linecap="butt" filter="url(#b07)"/>
<path d="M352.4 373.4 Q360.4 374.6 368.4 374.2" stroke="#fff" stroke-width="4.4" stroke-opacity="0.096" fill="none" stroke-linecap="butt" filter="url(#b2)"/>
<path d="M352.5 373.4 Q360.4 374.6 368.3 374.2" stroke="#fff" stroke-width="2.5" stroke-opacity="0.324" fill="none" stroke-linecap="butt" filter="url(#b07)"/>
<path d="M376.8 354.4 Q387.5 355.6 398.2 354.4" stroke="#fff" stroke-width="8" stroke-opacity="0.34" fill="none" stroke-linecap="butt" filter="url(#b3)"/>
<path d="M377.6 354.4 Q387.6 355.6 397.6 354.4" stroke="#fff" stroke-width="4.6" stroke-opacity="0.9" fill="none" stroke-linecap="butt" filter="url(#b1)"/>
<path d="M378.8 354.8 Q387.6 355.8 396.4 354.8" stroke="#fff" stroke-width="2.4" stroke-opacity="1" fill="none" stroke-linecap="butt" filter="url(#b07)"/>
<path d="M433.4 340.8 Q444.1 342 454.8 340.8" stroke="#fff" stroke-width="9" stroke-opacity="0.38" fill="none" stroke-linecap="butt" filter="url(#b3)"/>
<path d="M434.2 340.8 Q444.4 342 454.6 340.8" stroke="#fff" stroke-width="5.2" stroke-opacity="0.95" fill="none" stroke-linecap="butt" filter="url(#b1)"/>
<path d="M435.4 341.2 Q444.4 342.2 453.4 341.2" stroke="#fff" stroke-width="3" stroke-opacity="1" fill="none" stroke-linecap="butt" filter="url(#b07)"/>
<rect x="464" y="354" width="16.6" height="58" fill="#fff" opacity="0.04" filter="url(#b2)"/>
<path d="M464.4 358.6 Q472.2 360.2 480 358.6" stroke="#fff" stroke-width="5" stroke-opacity="0.2" fill="none" stroke-linecap="butt" filter="url(#b2)"/>
<path d="M464.4 371.6 Q472.2 372.4 480 371.6" stroke="#fff" stroke-width="5" stroke-opacity="0.08" fill="none" stroke-linecap="butt" filter="url(#b2)"/>
<path d="M464.4 386.2 Q472.2 387 480 386.2" stroke="#fff" stroke-width="5.5" stroke-opacity="0.09" fill="none" stroke-linecap="butt" filter="url(#b2)"/>
<path d="M464 406.3 Q472.2 407.7 480.4 406.3" stroke="#fff" stroke-width="6.5" stroke-opacity="0.26" fill="none" stroke-linecap="butt" filter="url(#b2)"/>
<path d="M465 406.3 Q472.2 407.7 479.4 406.3" stroke="#fff" stroke-width="3" stroke-opacity="0.18" fill="none" stroke-linecap="butt" filter="url(#b1)"/>
<rect x="491.4" y="250" width="17.8" height="46" fill="url(#sm5)" filter="url(#b1)"/>
<ellipse cx="492.8" cy="285.5" rx="1.7" ry="5.5" fill="#fff" opacity="0.4" filter="url(#b1)"/>
<ellipse cx="507.8" cy="285.5" rx="1.7" ry="5.5" fill="#fff" opacity="0.4" filter="url(#b1)"/>
<rect x="491" y="362" width="17.6" height="15" fill="#fff" opacity="0.10" filter="url(#b3)"/>
<rect x="518.2" y="268" width="18.6" height="23" fill="url(#sm6)" filter="url(#b1)"/>
<ellipse cx="519.4" cy="283.6" rx="1.5" ry="4" fill="#fff" opacity="0.3" filter="url(#b1)"/>
<ellipse cx="535.8" cy="283.6" rx="1.5" ry="4" fill="#fff" opacity="0.3" filter="url(#b1)"/>
<path d="M518 355 Q527.5 356.2 537 355" stroke="#fff" stroke-width="6.5" stroke-opacity="0.3" fill="none" stroke-linecap="butt" filter="url(#b2)"/>
<path d="M519 355 Q527.5 356.2 536 355" stroke="#fff" stroke-width="2.6" stroke-opacity="0.12" fill="none" stroke-linecap="butt" filter="url(#b1)"/>
</g>
<text x="343" y="236" font-size="9.8">Marker</text>
<text x="388.2" y="236" text-anchor="middle" font-size="9.8">1</text>
<text x="412.4" y="236" text-anchor="middle" font-size="9.8">2</text>
<text x="442.4" y="236" text-anchor="middle" font-size="9.8">3</text>
<text x="470.2" y="236" text-anchor="middle" font-size="9.8">4</text>
<text x="500.4" y="236" text-anchor="middle" font-size="9.8">5</text>
<text x="526.9" y="236" text-anchor="middle" font-size="9.8">6</text>
<text x="336" y="257" text-anchor="end" font-size="9.8">(bp)</text>
<text x="335.7" y="285.2" text-anchor="end" font-size="9.9">500</text>
<text x="335.7" y="296" text-anchor="end" font-size="9.9">400</text>
<text x="335.7" y="306.3" text-anchor="end" font-size="9.9">300</text>
<text x="335.7" y="316.4" text-anchor="end" font-size="9.9">200</text>
<text x="335.7" y="329.4" text-anchor="end" font-size="9.9">150</text>
<text x="335.7" y="344" text-anchor="end" font-size="9.9">100</text>
<text x="335.7" y="374" text-anchor="end" font-size="9.9">50</text>
<g transform="translate(-27.6 0)" fill="none" stroke="#b9343c" stroke-width="1.15" stroke-linecap="round" stroke-linejoin="round">
<circle cx="474.5" cy="205.9" r="1.45"/>
<path d="M473.5 207.1 L469.90 210.42"/>
<circle cx="467.50" cy="212.30" r="3.05"/>
<path d="M468.44 215.20 C469.2 216.8 469 218.4 468.6 219.8 C468 221.9 466.9 223.6 465.6 225.0"/>
<path d="M470.19 213.73 C471.2 214.6 472.4 215.2 473.4 215.5 C474.4 215.8 475.1 216.0 475.8 216.5"/>
<circle cx="477.1" cy="217.6" r="1.55"/>
<path d="M471.0 215.0 C470.6 217.4 470.6 220 471.4 222.2 C471.8 223.2 472.3 224 473 224.7"/>
<path d="M472.5 218 C472.3 220.6 473.2 223.2 474.9 225" stroke="#1f2f55" stroke-width="1.15"/>
</g>
<g transform="translate(0 0)" fill="none" stroke="#b9343c" stroke-width="1.15" stroke-linecap="round" stroke-linejoin="round">
<circle cx="474.5" cy="205.9" r="1.45"/>
<path d="M473.5 207.1 L469.90 210.42"/>
<circle cx="467.50" cy="212.30" r="3.05"/>
<path d="M468.44 215.20 C469.2 216.8 469 218.4 468.6 219.8 C468 221.9 466.9 223.6 465.6 225.0"/>
<path d="M470.19 213.73 C471.2 214.6 472.4 215.2 473.4 215.5 C474.4 215.8 475.1 216.0 475.8 216.5"/>
<circle cx="477.1" cy="217.6" r="1.55"/>
</g>
<path d="M489.4 209.6 C490.2 206.6 492.8 207.4 493.6 205.6 C495.6 203.6 498.4 204.4 499.8 205.2 C502.4 204.6 504.4 206.2 504.6 208.2 C506.4 209.4 506.4 211.6 505.6 213 C507 215 506.2 217.6 504.6 218.6 C504.8 221.4 502.6 222.8 500.8 222.6 C499.4 225.2 496.4 225.4 494.8 224 C492.2 224.8 490.2 222.8 490.4 220.8 C488 219.6 487.6 216.8 488.8 215.4 C487.2 213.4 487.8 210.6 489.4 209.6Z" fill="#e26468" fill-opacity="0.92"/>
<g transform="translate(31.6 0)" fill="none" stroke="#b9343c" stroke-width="1.15" stroke-linecap="round" stroke-linejoin="round">
<circle cx="474.5" cy="205.9" r="1.45"/>
<path d="M473.5 207.1 L469.90 210.42"/>
<circle cx="467.50" cy="212.30" r="3.05"/>
<path d="M468.44 215.20 C469.2 216.8 469 218.4 468.6 219.8 C468 221.9 466.9 223.6 465.6 225.0"/>
<path d="M470.19 213.73 C471.2 214.6 472.4 215.2 473.4 215.5 C474.4 215.8 475.1 216.0 475.8 216.5"/>
<circle cx="477.1" cy="217.6" r="1.55"/>
</g>
<text x="392.6" y="449.4" text-anchor="middle" font-size="9">1</text>
<text x="418" y="449.4" text-anchor="middle" font-size="9">2</text>
<text x="445.8" y="449.4" text-anchor="middle" font-size="9">3</text>
<text x="473.8" y="449.4" text-anchor="middle" font-size="9">4</text>
<text x="503.2" y="449.4" text-anchor="middle" font-size="9">5</text>
<text x="529.7" y="449.4" text-anchor="middle" font-size="9">6</text>
<text x="363.3" y="469.3" text-anchor="end" font-size="9.95">Apt-01(74)</text>
<text x="392.6" y="469.3" text-anchor="middle" font-size="8.8">+</text>
<text x="418" y="468.8" text-anchor="middle" font-size="9.6">–</text>
<text x="445.8" y="469.3" text-anchor="middle" font-size="8.8">+</text>
<text x="473.8" y="469.3" text-anchor="middle" font-size="8.8">+</text>
<text x="503.2" y="469.3" text-anchor="middle" font-size="8.8">+</text>
<text x="529.7" y="469.3" text-anchor="middle" font-size="8.8">+</text>
<text x="364.4" y="495.2" text-anchor="end" font-size="9.8">C2-13</text>
<text x="392.6" y="494.1" text-anchor="middle" font-size="9.6">–</text>
<text x="418" y="494.6" text-anchor="middle" font-size="8.8">+</text>
<text x="445.8" y="494.6" text-anchor="middle" font-size="8.8">+</text>
<text x="473.8" y="494.6" text-anchor="middle" font-size="8.8">+</text>
<text x="503.2" y="494.6" text-anchor="middle" font-size="8.8">+</text>
<text x="529.7" y="494.1" text-anchor="middle" font-size="9.6">–</text>
<text x="364.4" y="519.6" text-anchor="end" font-size="9.8">Target</text>
<text x="392.6" y="519.1" text-anchor="middle" font-size="9.6">–</text>
<text x="418" y="519.1" text-anchor="middle" font-size="9.6">–</text>
<text x="445.8" y="519.1" text-anchor="middle" font-size="9.6">–</text>
<text x="473.8" y="519.1" text-anchor="middle" font-size="9.6">–</text>
<text x="503.2" y="519.6" text-anchor="middle" font-size="8.8">+</text>
<text x="529.7" y="519.6" text-anchor="middle" font-size="8.8">+</text>
<text x="364.4" y="545" text-anchor="end" font-size="9.8">ExoIII</text>
<text x="392.6" y="544.3" text-anchor="middle" font-size="9.6">–</text>
<text x="418" y="544.3" text-anchor="middle" font-size="9.6">–</text>
<text x="445.8" y="544.3" text-anchor="middle" font-size="9.6">–</text>
<text x="473.8" y="544.8" text-anchor="middle" font-size="8.8">+</text>
<text x="503.2" y="544.8" text-anchor="middle" font-size="8.8">+</text>
<text x="529.7" y="544.3" text-anchor="middle" font-size="9.6">–</text>
</svg>
</body>
</html>
